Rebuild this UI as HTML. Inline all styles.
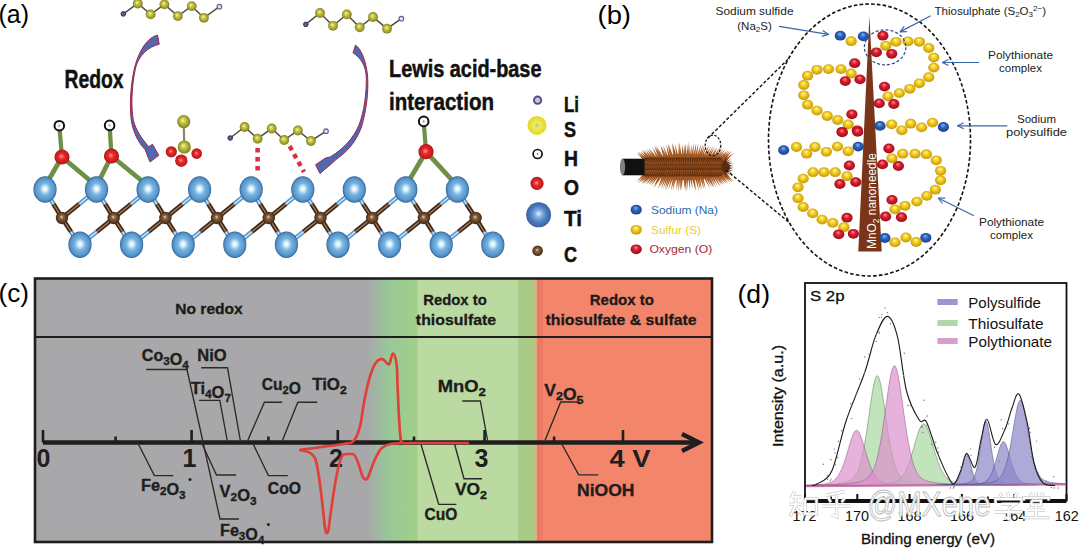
<!DOCTYPE html>
<html><head><meta charset="utf-8"><style>
html,body{margin:0;padding:0;background:#fff;width:1080px;height:549px;overflow:hidden}
svg{display:block}
text{font-family:"Liberation Sans",sans-serif}
</style></head><body>
<svg width="1080" height="549" viewBox="0 0 1080 549">
<rect width="1080" height="549" fill="#fff"/>
<defs>
<radialGradient id="gTi" cx="0.5" cy="0.5" r="0.5" fx="0.5" fy="0.47">
 <stop offset="0" stop-color="#ffffff"/><stop offset="0.18" stop-color="#d8f0fc"/>
 <stop offset="0.45" stop-color="#78b4e0"/><stop offset="0.8" stop-color="#5898cf"/><stop offset="0.92" stop-color="#4880b6"/><stop offset="1" stop-color="#2e5a88"/>
</radialGradient>
<radialGradient id="gTiL" cx="0.5" cy="0.5" r="0.55" fx="0.5" fy="0.45">
 <stop offset="0" stop-color="#e8f0ff"/><stop offset="0.25" stop-color="#8ab0e0"/>
 <stop offset="0.6" stop-color="#4a7cc0"/><stop offset="1" stop-color="#3a5a90"/>
</radialGradient>
<radialGradient id="gC" cx="0.5" cy="0.5" r="0.55" fx="0.45" fy="0.4">
 <stop offset="0" stop-color="#e8d0a8"/><stop offset="0.3" stop-color="#86603a"/><stop offset="1" stop-color="#3a2210"/>
</radialGradient>
<radialGradient id="gO" cx="0.5" cy="0.5" r="0.55" fx="0.45" fy="0.45">
 <stop offset="0" stop-color="#ff9a9a"/><stop offset="0.35" stop-color="#ec2a2a"/><stop offset="0.85" stop-color="#b81818"/><stop offset="1" stop-color="#901010"/>
</radialGradient>
<radialGradient id="gS" cx="0.5" cy="0.5" r="0.55" fx="0.42" fy="0.38">
 <stop offset="0" stop-color="#f8f8b0"/><stop offset="0.35" stop-color="#c8c844"/><stop offset="0.85" stop-color="#8a8a28"/><stop offset="1" stop-color="#5a5a18"/>
</radialGradient>
<radialGradient id="gSL" cx="0.5" cy="0.5" r="0.5" fx="0.5" fy="0.5">
 <stop offset="0" stop-color="#b0c0a0"/><stop offset="0.3" stop-color="#f0ec60"/><stop offset="1" stop-color="#e0d820"/>
</radialGradient>
<radialGradient id="bY" cx="0.5" cy="0.5" r="0.6" fx="0.45" fy="0.3">
 <stop offset="0" stop-color="#fff6a0"/><stop offset="0.4" stop-color="#f4cc20"/><stop offset="1" stop-color="#b88a00"/>
</radialGradient>
<radialGradient id="bB" cx="0.5" cy="0.5" r="0.6" fx="0.45" fy="0.3">
 <stop offset="0" stop-color="#8ab4f0"/><stop offset="0.4" stop-color="#2a64c0"/><stop offset="1" stop-color="#183a80"/>
</radialGradient>
<radialGradient id="bR" cx="0.5" cy="0.5" r="0.6" fx="0.45" fy="0.3">
 <stop offset="0" stop-color="#ff8a8a"/><stop offset="0.4" stop-color="#d81c2c"/><stop offset="1" stop-color="#8a0c18"/>
</radialGradient>
</defs>
<text x="-1.5" y="23.0" font-size="26" font-weight="normal" fill="#000" text-anchor="start" textLength="30.5" lengthAdjust="spacingAndGlyphs" >(a)</text>
<line x1="45.0" y1="190.0" x2="53.5" y2="204.0" stroke="#5a96cc" stroke-width="4.6"/>
<line x1="53.5" y1="204.0" x2="62.0" y2="218.0" stroke="#3e2614" stroke-width="4.6"/>
<line x1="45.0" y1="190.0" x2="53.5" y2="204.0" stroke="#d6ecfa" stroke-width="1.3"/>
<line x1="53.5" y1="204.0" x2="62.0" y2="218.0" stroke="#a88060" stroke-width="1.3"/>
<line x1="80.0" y1="245.5" x2="71.0" y2="231.8" stroke="#5a96cc" stroke-width="4.6"/>
<line x1="71.0" y1="231.8" x2="62.0" y2="218.0" stroke="#3e2614" stroke-width="4.6"/>
<line x1="80.0" y1="245.5" x2="71.0" y2="231.8" stroke="#d6ecfa" stroke-width="1.3"/>
<line x1="71.0" y1="231.8" x2="62.0" y2="218.0" stroke="#a88060" stroke-width="1.3"/>
<line x1="96.5" y1="190.0" x2="79.3" y2="204.0" stroke="#5a96cc" stroke-width="4.6"/>
<line x1="79.3" y1="204.0" x2="62.0" y2="218.0" stroke="#3e2614" stroke-width="4.6"/>
<line x1="96.5" y1="190.0" x2="79.3" y2="204.0" stroke="#d6ecfa" stroke-width="1.3"/>
<line x1="79.3" y1="204.0" x2="62.0" y2="218.0" stroke="#a88060" stroke-width="1.3"/>
<line x1="80.0" y1="245.5" x2="96.8" y2="231.8" stroke="#5a96cc" stroke-width="4.6"/>
<line x1="96.8" y1="231.8" x2="113.7" y2="218.0" stroke="#3e2614" stroke-width="4.6"/>
<line x1="80.0" y1="245.5" x2="96.8" y2="231.8" stroke="#d6ecfa" stroke-width="1.3"/>
<line x1="96.8" y1="231.8" x2="113.7" y2="218.0" stroke="#a88060" stroke-width="1.3"/>
<line x1="96.5" y1="190.0" x2="105.1" y2="204.0" stroke="#5a96cc" stroke-width="4.6"/>
<line x1="105.1" y1="204.0" x2="113.7" y2="218.0" stroke="#3e2614" stroke-width="4.6"/>
<line x1="96.5" y1="190.0" x2="105.1" y2="204.0" stroke="#d6ecfa" stroke-width="1.3"/>
<line x1="105.1" y1="204.0" x2="113.7" y2="218.0" stroke="#a88060" stroke-width="1.3"/>
<line x1="131.6" y1="245.5" x2="122.7" y2="231.8" stroke="#5a96cc" stroke-width="4.6"/>
<line x1="122.7" y1="231.8" x2="113.7" y2="218.0" stroke="#3e2614" stroke-width="4.6"/>
<line x1="131.6" y1="245.5" x2="122.7" y2="231.8" stroke="#d6ecfa" stroke-width="1.3"/>
<line x1="122.7" y1="231.8" x2="113.7" y2="218.0" stroke="#a88060" stroke-width="1.3"/>
<line x1="148.1" y1="190.0" x2="130.9" y2="204.0" stroke="#5a96cc" stroke-width="4.6"/>
<line x1="130.9" y1="204.0" x2="113.7" y2="218.0" stroke="#3e2614" stroke-width="4.6"/>
<line x1="148.1" y1="190.0" x2="130.9" y2="204.0" stroke="#d6ecfa" stroke-width="1.3"/>
<line x1="130.9" y1="204.0" x2="113.7" y2="218.0" stroke="#a88060" stroke-width="1.3"/>
<line x1="131.6" y1="245.5" x2="148.5" y2="231.8" stroke="#5a96cc" stroke-width="4.6"/>
<line x1="148.5" y1="231.8" x2="165.4" y2="218.0" stroke="#3e2614" stroke-width="4.6"/>
<line x1="131.6" y1="245.5" x2="148.5" y2="231.8" stroke="#d6ecfa" stroke-width="1.3"/>
<line x1="148.5" y1="231.8" x2="165.4" y2="218.0" stroke="#a88060" stroke-width="1.3"/>
<line x1="148.1" y1="190.0" x2="156.8" y2="204.0" stroke="#5a96cc" stroke-width="4.6"/>
<line x1="156.8" y1="204.0" x2="165.4" y2="218.0" stroke="#3e2614" stroke-width="4.6"/>
<line x1="148.1" y1="190.0" x2="156.8" y2="204.0" stroke="#d6ecfa" stroke-width="1.3"/>
<line x1="156.8" y1="204.0" x2="165.4" y2="218.0" stroke="#a88060" stroke-width="1.3"/>
<line x1="183.2" y1="245.5" x2="174.3" y2="231.8" stroke="#5a96cc" stroke-width="4.6"/>
<line x1="174.3" y1="231.8" x2="165.4" y2="218.0" stroke="#3e2614" stroke-width="4.6"/>
<line x1="183.2" y1="245.5" x2="174.3" y2="231.8" stroke="#d6ecfa" stroke-width="1.3"/>
<line x1="174.3" y1="231.8" x2="165.4" y2="218.0" stroke="#a88060" stroke-width="1.3"/>
<line x1="199.6" y1="190.0" x2="182.5" y2="204.0" stroke="#5a96cc" stroke-width="4.6"/>
<line x1="182.5" y1="204.0" x2="165.4" y2="218.0" stroke="#3e2614" stroke-width="4.6"/>
<line x1="199.6" y1="190.0" x2="182.5" y2="204.0" stroke="#d6ecfa" stroke-width="1.3"/>
<line x1="182.5" y1="204.0" x2="165.4" y2="218.0" stroke="#a88060" stroke-width="1.3"/>
<line x1="183.2" y1="245.5" x2="200.2" y2="231.8" stroke="#5a96cc" stroke-width="4.6"/>
<line x1="200.2" y1="231.8" x2="217.1" y2="218.0" stroke="#3e2614" stroke-width="4.6"/>
<line x1="183.2" y1="245.5" x2="200.2" y2="231.8" stroke="#d6ecfa" stroke-width="1.3"/>
<line x1="200.2" y1="231.8" x2="217.1" y2="218.0" stroke="#a88060" stroke-width="1.3"/>
<line x1="199.6" y1="190.0" x2="208.4" y2="204.0" stroke="#5a96cc" stroke-width="4.6"/>
<line x1="208.4" y1="204.0" x2="217.1" y2="218.0" stroke="#3e2614" stroke-width="4.6"/>
<line x1="199.6" y1="190.0" x2="208.4" y2="204.0" stroke="#d6ecfa" stroke-width="1.3"/>
<line x1="208.4" y1="204.0" x2="217.1" y2="218.0" stroke="#a88060" stroke-width="1.3"/>
<line x1="234.8" y1="245.5" x2="226.0" y2="231.8" stroke="#5a96cc" stroke-width="4.6"/>
<line x1="226.0" y1="231.8" x2="217.1" y2="218.0" stroke="#3e2614" stroke-width="4.6"/>
<line x1="234.8" y1="245.5" x2="226.0" y2="231.8" stroke="#d6ecfa" stroke-width="1.3"/>
<line x1="226.0" y1="231.8" x2="217.1" y2="218.0" stroke="#a88060" stroke-width="1.3"/>
<line x1="251.2" y1="190.0" x2="234.2" y2="204.0" stroke="#5a96cc" stroke-width="4.6"/>
<line x1="234.2" y1="204.0" x2="217.1" y2="218.0" stroke="#3e2614" stroke-width="4.6"/>
<line x1="251.2" y1="190.0" x2="234.2" y2="204.0" stroke="#d6ecfa" stroke-width="1.3"/>
<line x1="234.2" y1="204.0" x2="217.1" y2="218.0" stroke="#a88060" stroke-width="1.3"/>
<line x1="234.8" y1="245.5" x2="251.8" y2="231.8" stroke="#5a96cc" stroke-width="4.6"/>
<line x1="251.8" y1="231.8" x2="268.8" y2="218.0" stroke="#3e2614" stroke-width="4.6"/>
<line x1="234.8" y1="245.5" x2="251.8" y2="231.8" stroke="#d6ecfa" stroke-width="1.3"/>
<line x1="251.8" y1="231.8" x2="268.8" y2="218.0" stroke="#a88060" stroke-width="1.3"/>
<line x1="251.2" y1="190.0" x2="260.0" y2="204.0" stroke="#5a96cc" stroke-width="4.6"/>
<line x1="260.0" y1="204.0" x2="268.8" y2="218.0" stroke="#3e2614" stroke-width="4.6"/>
<line x1="251.2" y1="190.0" x2="260.0" y2="204.0" stroke="#d6ecfa" stroke-width="1.3"/>
<line x1="260.0" y1="204.0" x2="268.8" y2="218.0" stroke="#a88060" stroke-width="1.3"/>
<line x1="286.4" y1="245.5" x2="277.6" y2="231.8" stroke="#5a96cc" stroke-width="4.6"/>
<line x1="277.6" y1="231.8" x2="268.8" y2="218.0" stroke="#3e2614" stroke-width="4.6"/>
<line x1="286.4" y1="245.5" x2="277.6" y2="231.8" stroke="#d6ecfa" stroke-width="1.3"/>
<line x1="277.6" y1="231.8" x2="268.8" y2="218.0" stroke="#a88060" stroke-width="1.3"/>
<line x1="302.8" y1="190.0" x2="285.8" y2="204.0" stroke="#5a96cc" stroke-width="4.6"/>
<line x1="285.8" y1="204.0" x2="268.8" y2="218.0" stroke="#3e2614" stroke-width="4.6"/>
<line x1="302.8" y1="190.0" x2="285.8" y2="204.0" stroke="#d6ecfa" stroke-width="1.3"/>
<line x1="285.8" y1="204.0" x2="268.8" y2="218.0" stroke="#a88060" stroke-width="1.3"/>
<line x1="286.4" y1="245.5" x2="303.4" y2="231.8" stroke="#5a96cc" stroke-width="4.6"/>
<line x1="303.4" y1="231.8" x2="320.5" y2="218.0" stroke="#3e2614" stroke-width="4.6"/>
<line x1="286.4" y1="245.5" x2="303.4" y2="231.8" stroke="#d6ecfa" stroke-width="1.3"/>
<line x1="303.4" y1="231.8" x2="320.5" y2="218.0" stroke="#a88060" stroke-width="1.3"/>
<line x1="302.8" y1="190.0" x2="311.6" y2="204.0" stroke="#5a96cc" stroke-width="4.6"/>
<line x1="311.6" y1="204.0" x2="320.5" y2="218.0" stroke="#3e2614" stroke-width="4.6"/>
<line x1="302.8" y1="190.0" x2="311.6" y2="204.0" stroke="#d6ecfa" stroke-width="1.3"/>
<line x1="311.6" y1="204.0" x2="320.5" y2="218.0" stroke="#a88060" stroke-width="1.3"/>
<line x1="338.0" y1="245.5" x2="329.2" y2="231.8" stroke="#5a96cc" stroke-width="4.6"/>
<line x1="329.2" y1="231.8" x2="320.5" y2="218.0" stroke="#3e2614" stroke-width="4.6"/>
<line x1="338.0" y1="245.5" x2="329.2" y2="231.8" stroke="#d6ecfa" stroke-width="1.3"/>
<line x1="329.2" y1="231.8" x2="320.5" y2="218.0" stroke="#a88060" stroke-width="1.3"/>
<line x1="354.3" y1="190.0" x2="337.4" y2="204.0" stroke="#5a96cc" stroke-width="4.6"/>
<line x1="337.4" y1="204.0" x2="320.5" y2="218.0" stroke="#3e2614" stroke-width="4.6"/>
<line x1="354.3" y1="190.0" x2="337.4" y2="204.0" stroke="#d6ecfa" stroke-width="1.3"/>
<line x1="337.4" y1="204.0" x2="320.5" y2="218.0" stroke="#a88060" stroke-width="1.3"/>
<line x1="338.0" y1="245.5" x2="355.1" y2="231.8" stroke="#5a96cc" stroke-width="4.6"/>
<line x1="355.1" y1="231.8" x2="372.2" y2="218.0" stroke="#3e2614" stroke-width="4.6"/>
<line x1="338.0" y1="245.5" x2="355.1" y2="231.8" stroke="#d6ecfa" stroke-width="1.3"/>
<line x1="355.1" y1="231.8" x2="372.2" y2="218.0" stroke="#a88060" stroke-width="1.3"/>
<line x1="354.3" y1="190.0" x2="363.2" y2="204.0" stroke="#5a96cc" stroke-width="4.6"/>
<line x1="363.2" y1="204.0" x2="372.2" y2="218.0" stroke="#3e2614" stroke-width="4.6"/>
<line x1="354.3" y1="190.0" x2="363.2" y2="204.0" stroke="#d6ecfa" stroke-width="1.3"/>
<line x1="363.2" y1="204.0" x2="372.2" y2="218.0" stroke="#a88060" stroke-width="1.3"/>
<line x1="389.6" y1="245.5" x2="380.9" y2="231.8" stroke="#5a96cc" stroke-width="4.6"/>
<line x1="380.9" y1="231.8" x2="372.2" y2="218.0" stroke="#3e2614" stroke-width="4.6"/>
<line x1="389.6" y1="245.5" x2="380.9" y2="231.8" stroke="#d6ecfa" stroke-width="1.3"/>
<line x1="380.9" y1="231.8" x2="372.2" y2="218.0" stroke="#a88060" stroke-width="1.3"/>
<line x1="405.8" y1="190.0" x2="389.0" y2="204.0" stroke="#5a96cc" stroke-width="4.6"/>
<line x1="389.0" y1="204.0" x2="372.2" y2="218.0" stroke="#3e2614" stroke-width="4.6"/>
<line x1="405.8" y1="190.0" x2="389.0" y2="204.0" stroke="#d6ecfa" stroke-width="1.3"/>
<line x1="389.0" y1="204.0" x2="372.2" y2="218.0" stroke="#a88060" stroke-width="1.3"/>
<line x1="389.6" y1="245.5" x2="406.8" y2="231.8" stroke="#5a96cc" stroke-width="4.6"/>
<line x1="406.8" y1="231.8" x2="423.9" y2="218.0" stroke="#3e2614" stroke-width="4.6"/>
<line x1="389.6" y1="245.5" x2="406.8" y2="231.8" stroke="#d6ecfa" stroke-width="1.3"/>
<line x1="406.8" y1="231.8" x2="423.9" y2="218.0" stroke="#a88060" stroke-width="1.3"/>
<line x1="405.8" y1="190.0" x2="414.9" y2="204.0" stroke="#5a96cc" stroke-width="4.6"/>
<line x1="414.9" y1="204.0" x2="423.9" y2="218.0" stroke="#3e2614" stroke-width="4.6"/>
<line x1="405.8" y1="190.0" x2="414.9" y2="204.0" stroke="#d6ecfa" stroke-width="1.3"/>
<line x1="414.9" y1="204.0" x2="423.9" y2="218.0" stroke="#a88060" stroke-width="1.3"/>
<line x1="441.2" y1="245.5" x2="432.6" y2="231.8" stroke="#5a96cc" stroke-width="4.6"/>
<line x1="432.6" y1="231.8" x2="423.9" y2="218.0" stroke="#3e2614" stroke-width="4.6"/>
<line x1="441.2" y1="245.5" x2="432.6" y2="231.8" stroke="#d6ecfa" stroke-width="1.3"/>
<line x1="432.6" y1="231.8" x2="423.9" y2="218.0" stroke="#a88060" stroke-width="1.3"/>
<line x1="457.4" y1="190.0" x2="440.6" y2="204.0" stroke="#5a96cc" stroke-width="4.6"/>
<line x1="440.6" y1="204.0" x2="423.9" y2="218.0" stroke="#3e2614" stroke-width="4.6"/>
<line x1="457.4" y1="190.0" x2="440.6" y2="204.0" stroke="#d6ecfa" stroke-width="1.3"/>
<line x1="440.6" y1="204.0" x2="423.9" y2="218.0" stroke="#a88060" stroke-width="1.3"/>
<line x1="441.2" y1="245.5" x2="458.4" y2="231.8" stroke="#5a96cc" stroke-width="4.6"/>
<line x1="458.4" y1="231.8" x2="475.6" y2="218.0" stroke="#3e2614" stroke-width="4.6"/>
<line x1="441.2" y1="245.5" x2="458.4" y2="231.8" stroke="#d6ecfa" stroke-width="1.3"/>
<line x1="458.4" y1="231.8" x2="475.6" y2="218.0" stroke="#a88060" stroke-width="1.3"/>
<line x1="457.4" y1="190.0" x2="466.5" y2="204.0" stroke="#5a96cc" stroke-width="4.6"/>
<line x1="466.5" y1="204.0" x2="475.6" y2="218.0" stroke="#3e2614" stroke-width="4.6"/>
<line x1="457.4" y1="190.0" x2="466.5" y2="204.0" stroke="#d6ecfa" stroke-width="1.3"/>
<line x1="466.5" y1="204.0" x2="475.6" y2="218.0" stroke="#a88060" stroke-width="1.3"/>
<line x1="492.8" y1="245.5" x2="484.2" y2="231.8" stroke="#5a96cc" stroke-width="4.6"/>
<line x1="484.2" y1="231.8" x2="475.6" y2="218.0" stroke="#3e2614" stroke-width="4.6"/>
<line x1="492.8" y1="245.5" x2="484.2" y2="231.8" stroke="#d6ecfa" stroke-width="1.3"/>
<line x1="484.2" y1="231.8" x2="475.6" y2="218.0" stroke="#a88060" stroke-width="1.3"/>
<line x1="59.3" y1="125.7" x2="62.0" y2="157.0" stroke="#6c9046" stroke-width="4.2" stroke-linecap="butt"/>
<line x1="62.0" y1="157.0" x2="45.0" y2="186.0" stroke="#6c9046" stroke-width="4.8" stroke-linecap="butt"/>
<line x1="62.0" y1="157.0" x2="96.5" y2="186.0" stroke="#6c9046" stroke-width="4.8" stroke-linecap="butt"/>
<line x1="109.6" y1="125.4" x2="111.5" y2="156.0" stroke="#6c9046" stroke-width="4.2" stroke-linecap="butt"/>
<line x1="111.5" y1="156.0" x2="96.5" y2="186.0" stroke="#6c9046" stroke-width="4.8" stroke-linecap="butt"/>
<line x1="111.5" y1="156.0" x2="148.1" y2="186.0" stroke="#6c9046" stroke-width="4.8" stroke-linecap="butt"/>
<line x1="423.7" y1="121.4" x2="426.0" y2="151.7" stroke="#6c9046" stroke-width="4.2" stroke-linecap="butt"/>
<line x1="426.0" y1="151.7" x2="405.8" y2="186.0" stroke="#6c9046" stroke-width="4.8" stroke-linecap="butt"/>
<line x1="426.0" y1="151.7" x2="457.4" y2="186.0" stroke="#6c9046" stroke-width="4.8" stroke-linecap="butt"/>
<ellipse cx="45.0" cy="189.5" rx="11.6" ry="13.2" fill="url(#gTi)"/>
<ellipse cx="96.5" cy="189.5" rx="11.6" ry="13.2" fill="url(#gTi)"/>
<ellipse cx="148.1" cy="189.5" rx="11.6" ry="13.2" fill="url(#gTi)"/>
<ellipse cx="199.6" cy="189.5" rx="11.6" ry="13.2" fill="url(#gTi)"/>
<ellipse cx="251.2" cy="189.5" rx="11.6" ry="13.2" fill="url(#gTi)"/>
<ellipse cx="302.8" cy="189.5" rx="11.6" ry="13.2" fill="url(#gTi)"/>
<ellipse cx="354.3" cy="189.5" rx="11.6" ry="13.2" fill="url(#gTi)"/>
<ellipse cx="405.8" cy="189.5" rx="11.6" ry="13.2" fill="url(#gTi)"/>
<ellipse cx="457.4" cy="189.5" rx="11.6" ry="13.2" fill="url(#gTi)"/>
<ellipse cx="80.0" cy="244.7" rx="11.6" ry="13.2" fill="url(#gTi)"/>
<ellipse cx="131.6" cy="244.7" rx="11.6" ry="13.2" fill="url(#gTi)"/>
<ellipse cx="183.2" cy="244.7" rx="11.6" ry="13.2" fill="url(#gTi)"/>
<ellipse cx="234.8" cy="244.7" rx="11.6" ry="13.2" fill="url(#gTi)"/>
<ellipse cx="286.4" cy="244.7" rx="11.6" ry="13.2" fill="url(#gTi)"/>
<ellipse cx="338.0" cy="244.7" rx="11.6" ry="13.2" fill="url(#gTi)"/>
<ellipse cx="389.6" cy="244.7" rx="11.6" ry="13.2" fill="url(#gTi)"/>
<ellipse cx="441.2" cy="244.7" rx="11.6" ry="13.2" fill="url(#gTi)"/>
<ellipse cx="492.8" cy="244.7" rx="11.6" ry="13.2" fill="url(#gTi)"/>
<circle cx="62.0" cy="218" r="6.2" fill="url(#gC)"/>
<circle cx="113.7" cy="218" r="6.2" fill="url(#gC)"/>
<circle cx="165.4" cy="218" r="6.2" fill="url(#gC)"/>
<circle cx="217.1" cy="218" r="6.2" fill="url(#gC)"/>
<circle cx="268.8" cy="218" r="6.2" fill="url(#gC)"/>
<circle cx="320.5" cy="218" r="6.2" fill="url(#gC)"/>
<circle cx="372.2" cy="218" r="6.2" fill="url(#gC)"/>
<circle cx="423.9" cy="218" r="6.2" fill="url(#gC)"/>
<circle cx="475.6" cy="218" r="6.2" fill="url(#gC)"/>
<circle cx="62" cy="157" r="7.6" fill="url(#gO)"/>
<circle cx="59.3" cy="125.7" r="4.8" fill="#fff" stroke="#111" stroke-width="2"/>
<circle cx="59.3" cy="125.7" r="1.1" fill="#999"/>
<circle cx="111.5" cy="156" r="7.6" fill="url(#gO)"/>
<circle cx="109.6" cy="125.4" r="4.8" fill="#fff" stroke="#111" stroke-width="2"/>
<circle cx="109.6" cy="125.4" r="1.1" fill="#999"/>
<circle cx="426" cy="151.7" r="7.6" fill="url(#gO)"/>
<circle cx="423.7" cy="121.4" r="4.8" fill="#fff" stroke="#111" stroke-width="2"/>
<circle cx="423.7" cy="121.4" r="1.1" fill="#999"/>
<line x1="183.7" y1="121.7" x2="184.3" y2="147" stroke="#8a8a60" stroke-width="2.2"/>
<circle cx="183.7" cy="121.6" r="6.6" fill="url(#gS)"/>
<circle cx="184.3" cy="147" r="6.6" fill="url(#gS)"/>
<circle cx="171.3" cy="151.8" r="5.6" fill="url(#gO)"/>
<circle cx="196.7" cy="153.6" r="5.3" fill="url(#gO)"/>
<circle cx="181.3" cy="160.7" r="6.2" fill="url(#gO)"/>
<polyline points="123.3,13.9 137.8,3.5 150.6,14.4 164.4,4.4 177.8,16.1 191.7,6.1 203.9,17.8 219.4,6.7" fill="none" stroke="#505038" stroke-width="1.5"/>
<circle cx="123.3" cy="13.9" r="2.3" fill="#6a5a88" stroke="#3a2a50" stroke-width="1"/>
<circle cx="219.4" cy="6.7" r="2.3" fill="#e8e0f8" stroke="#6a5a8a" stroke-width="1.1"/>
<circle cx="137.8" cy="3.5" r="4.9" fill="url(#gS)"/>
<circle cx="150.6" cy="14.4" r="4.9" fill="url(#gS)"/>
<circle cx="164.4" cy="4.4" r="4.9" fill="url(#gS)"/>
<circle cx="177.8" cy="16.1" r="4.9" fill="url(#gS)"/>
<circle cx="191.7" cy="6.1" r="4.9" fill="url(#gS)"/>
<circle cx="203.9" cy="17.8" r="4.9" fill="url(#gS)"/>
<polyline points="305.8,24.4 320.0,13.0 333.0,25.8 346.8,14.4 359.7,27.3 373.0,17.0 387.0,28.7 401.4,18.7" fill="none" stroke="#505038" stroke-width="1.5"/>
<circle cx="305.8" cy="24.4" r="2.3" fill="#6a5a88" stroke="#3a2a50" stroke-width="1"/>
<circle cx="401.4" cy="18.7" r="2.3" fill="#e8e0f8" stroke="#6a5a8a" stroke-width="1.1"/>
<circle cx="320.0" cy="13.0" r="4.9" fill="url(#gS)"/>
<circle cx="333.0" cy="25.8" r="4.9" fill="url(#gS)"/>
<circle cx="346.8" cy="14.4" r="4.9" fill="url(#gS)"/>
<circle cx="359.7" cy="27.3" r="4.9" fill="url(#gS)"/>
<circle cx="373.0" cy="17.0" r="4.9" fill="url(#gS)"/>
<circle cx="387.0" cy="28.7" r="4.9" fill="url(#gS)"/>
<polyline points="230.2,138.0 244.6,127.0 257.6,138.7 271.7,128.5 284.2,140.0 297.9,130.5 310.9,141.0 326.0,131.2" fill="none" stroke="#505038" stroke-width="1.5"/>
<circle cx="230.2" cy="138" r="2.3" fill="#6a5a88" stroke="#3a2a50" stroke-width="1"/>
<circle cx="326" cy="131.2" r="2.3" fill="#e8e0f8" stroke="#6a5a8a" stroke-width="1.1"/>
<circle cx="244.6" cy="127.0" r="4.9" fill="url(#gS)"/>
<circle cx="257.6" cy="138.7" r="4.9" fill="url(#gS)"/>
<circle cx="271.7" cy="128.5" r="4.9" fill="url(#gS)"/>
<circle cx="284.2" cy="140.0" r="4.9" fill="url(#gS)"/>
<circle cx="297.9" cy="130.5" r="4.9" fill="url(#gS)"/>
<circle cx="310.9" cy="141.0" r="4.9" fill="url(#gS)"/>
<line x1="257.6" y1="148" x2="257.6" y2="173" stroke="#d83040" stroke-width="4.5" stroke-dasharray="4.6 4.4"/>
<line x1="289.7" y1="146.2" x2="304" y2="172" stroke="#d83040" stroke-width="4.5" stroke-dasharray="4.6 4.4"/>
<path d="M157.6,35.2 C148,37 139,50 134.5,68 C130.5,85 129.5,105 131.2,120 C133,132 138,142 145,149.5 L146.2,152.5 L150,162 L158.8,155.3 L152.5,144.2 L148.8,146.8 C142.5,139.5 136,131 133.3,120 C131.3,108 131,90 135.5,68 C139,55 148,47 159.2,44.2 Z" fill="#5068b0" stroke="#9a2a48" stroke-width="1" stroke-linejoin="round"/>
<path d="M355.5,45.1 C361,49 366,60 367.6,76 C368.6,92 366.5,110 361.5,127 C356,142 347,152 336,159.5 L333.5,162 L320,173.5 L315.5,164.8 L325.5,158 L330.5,156.8 C343,149 353,139 359,125 C364,112 366.5,94 366.3,78 C366,66 361,58 353,52.8 Z" fill="#5068b0" stroke="#9a2a48" stroke-width="1" stroke-linejoin="round"/>
<text x="64.5" y="88.3" font-size="25" font-weight="bold" fill="#111" text-anchor="start" textLength="59" lengthAdjust="spacingAndGlyphs" stroke="#111" stroke-width="0.5">Redox</text>
<text x="389.0" y="77.0" font-size="23" font-weight="bold" fill="#111" text-anchor="start" textLength="152.5" lengthAdjust="spacingAndGlyphs" stroke="#111" stroke-width="0.5">Lewis acid-base</text>
<text x="389.0" y="109.5" font-size="23" font-weight="bold" fill="#111" text-anchor="start" textLength="105" lengthAdjust="spacingAndGlyphs" stroke="#111" stroke-width="0.5">interaction</text>
<circle cx="537.6" cy="100.2" r="3.6" fill="#c8c0e0" stroke="#5a4a80" stroke-width="2"/>
<circle cx="537" cy="125.4" r="9.5" fill="url(#gSL)"/>
<circle cx="537.6" cy="154" r="4.5" fill="#fff" stroke="#111" stroke-width="1.7"/><circle cx="537.6" cy="154" r="1" fill="#999"/>
<circle cx="537" cy="183.4" r="6.6" fill="url(#gO)"/>
<circle cx="538.6" cy="214.8" r="12.5" fill="url(#gTiL)"/>
<circle cx="537.6" cy="250.8" r="5.3" fill="url(#gC)"/>
<text x="564.0" y="112.0" font-size="22" font-weight="bold" fill="#111" text-anchor="start" textLength="15" lengthAdjust="spacingAndGlyphs" stroke="#111" stroke-width="0.5">Li</text>
<text x="564.0" y="137.0" font-size="22" font-weight="bold" fill="#111" text-anchor="start" textLength="12" lengthAdjust="spacingAndGlyphs" stroke="#111" stroke-width="0.5">S</text>
<text x="564.0" y="166.0" font-size="22" font-weight="bold" fill="#111" text-anchor="start" textLength="14" lengthAdjust="spacingAndGlyphs" stroke="#111" stroke-width="0.5">H</text>
<text x="564.0" y="195.0" font-size="22" font-weight="bold" fill="#111" text-anchor="start" textLength="15" lengthAdjust="spacingAndGlyphs" stroke="#111" stroke-width="0.5">O</text>
<text x="564.0" y="226.0" font-size="22" font-weight="bold" fill="#111" text-anchor="start" textLength="18" lengthAdjust="spacingAndGlyphs" stroke="#111" stroke-width="0.5">Ti</text>
<text x="564.0" y="262.0" font-size="22" font-weight="bold" fill="#111" text-anchor="start" textLength="13" lengthAdjust="spacingAndGlyphs" stroke="#111" stroke-width="0.5">C</text>
<text x="597.5" y="23.5" font-size="26" font-weight="normal" fill="#000" text-anchor="start" textLength="33.5" lengthAdjust="spacingAndGlyphs" >(b)</text>
<defs><linearGradient id="spk" x1="0" y1="0" x2="0" y2="1"><stop offset="0" stop-color="#c87838"/><stop offset="1" stop-color="#6a3010"/></linearGradient></defs>
<ellipse cx="686" cy="167" rx="44" ry="13" fill="#6a3010"/>
<polygon points="646.9,160.0 636.5,152.4 645.1,162.0" fill="#a65a24"/>
<polygon points="645.0,172.0 636.6,181.8 647.0,174.0" fill="#a65a24"/>
<polygon points="648.5,160.0 637.7,151.2 646.5,162.0" fill="#a65a24"/>
<polygon points="646.5,172.1 638.1,183.2 648.6,173.9" fill="#a65a24"/>
<polygon points="650.1,160.1 640.4,151.3 648.0,161.9" fill="#a65a24"/>
<polygon points="648.0,172.1 640.3,182.6 650.1,173.9" fill="#a65a24"/>
<polygon points="651.7,160.1 642.0,150.2 649.5,161.9" fill="#a65a24"/>
<polygon points="649.5,172.1 641.4,183.2 651.6,173.9" fill="#a65a24"/>
<polygon points="653.2,160.1 642.2,149.4 651.1,161.9" fill="#a65a24"/>
<polygon points="651.1,172.1 642.0,184.4 653.2,173.9" fill="#a65a24"/>
<polygon points="654.8,160.1 645.0,149.8 652.5,161.9" fill="#a65a24"/>
<polygon points="652.6,172.1 644.3,183.6 654.7,173.9" fill="#a65a24"/>
<polygon points="656.3,160.2 646.5,148.5 654.0,161.8" fill="#a65a24"/>
<polygon points="654.1,172.1 645.8,185.0 656.3,173.9" fill="#a65a24"/>
<polygon points="657.9,160.2 648.9,148.8 655.5,161.8" fill="#a65a24"/>
<polygon points="655.6,172.2 648.3,184.8 657.8,173.8" fill="#a65a24"/>
<polygon points="659.4,160.2 649.1,148.8 657.1,161.8" fill="#a65a24"/>
<polygon points="657.1,172.2 649.3,185.3 659.4,173.8" fill="#a65a24"/>
<polygon points="661.0,160.3 652.0,147.2 658.5,161.7" fill="#a65a24"/>
<polygon points="658.6,172.2 650.9,186.1 660.9,173.8" fill="#a65a24"/>
<polygon points="662.6,160.4 654.1,146.1 660.0,161.6" fill="#a65a24"/>
<polygon points="660.1,172.3 653.4,187.6 662.5,173.7" fill="#a65a24"/>
<polygon points="664.1,160.3 654.9,145.9 661.6,161.7" fill="#a65a24"/>
<polygon points="661.6,172.3 654.1,187.6 664.0,173.7" fill="#a65a24"/>
<polygon points="665.6,160.3 656.0,145.7 663.1,161.7" fill="#a65a24"/>
<polygon points="663.1,172.5 657.7,189.1 665.6,173.5" fill="#a65a24"/>
<polygon points="667.2,160.5 660.5,145.9 664.6,161.5" fill="#a65a24"/>
<polygon points="664.6,172.5 659.6,187.7 667.2,173.5" fill="#a65a24"/>
<polygon points="668.7,160.4 660.6,145.2 666.1,161.6" fill="#a65a24"/>
<polygon points="666.1,172.5 661.1,188.9 668.7,173.5" fill="#a65a24"/>
<polygon points="670.2,160.5 663.0,145.4 667.6,161.5" fill="#a65a24"/>
<polygon points="667.6,172.5 663.1,188.7 670.3,173.5" fill="#a65a24"/>
<polygon points="671.8,160.6 666.1,144.2 669.1,161.4" fill="#a65a24"/>
<polygon points="669.1,172.5 664.7,189.4 671.8,173.5" fill="#a65a24"/>
<polygon points="673.4,160.7 667.8,143.2 670.6,161.3" fill="#a65a24"/>
<polygon points="670.7,172.5 665.8,190.2 673.3,173.5" fill="#a65a24"/>
<polygon points="674.9,160.6 668.4,144.0 672.2,161.4" fill="#a65a24"/>
<polygon points="672.2,172.6 668.3,190.0 674.9,173.4" fill="#a65a24"/>
<polygon points="676.4,160.8 672.1,142.6 673.7,161.2" fill="#a65a24"/>
<polygon points="673.7,172.7 670.9,191.1 676.4,173.3" fill="#a65a24"/>
<polygon points="678.0,160.7 672.6,143.4 675.2,161.3" fill="#a65a24"/>
<polygon points="675.2,172.7 672.5,190.6 678.0,173.3" fill="#a65a24"/>
<polygon points="679.5,160.8 675.0,143.5 676.7,161.2" fill="#a65a24"/>
<polygon points="676.7,172.9 676.6,190.7 679.5,173.1" fill="#a65a24"/>
<polygon points="681.0,160.9 678.8,142.5 678.2,161.1" fill="#a65a24"/>
<polygon points="678.2,172.9 678.6,191.5 681.0,173.1" fill="#a65a24"/>
<polygon points="682.6,160.9 679.4,142.6 679.8,161.1" fill="#a65a24"/>
<polygon points="679.8,173.0 680.6,191.4 682.6,173.0" fill="#a65a24"/>
<polygon points="684.1,161.0 682.5,143.8 681.3,161.0" fill="#a65a24"/>
<polygon points="681.3,172.9 681.0,190.1 684.1,173.1" fill="#a65a24"/>
<polygon points="685.6,161.0 684.2,144.4 682.8,161.0" fill="#a65a24"/>
<polygon points="682.8,173.1 685.0,189.6 685.6,172.9" fill="#a65a24"/>
<polygon points="687.2,161.0 685.6,142.7 684.4,161.0" fill="#a65a24"/>
<polygon points="684.4,172.9 685.1,191.3 687.2,173.1" fill="#a65a24"/>
<polygon points="688.7,161.1 688.2,142.1 685.9,160.9" fill="#a65a24"/>
<polygon points="685.9,173.0 686.9,191.9 688.7,173.0" fill="#a65a24"/>
<polygon points="690.2,161.0 689.2,143.8 687.4,161.0" fill="#a65a24"/>
<polygon points="687.4,173.1 690.0,190.2 690.2,172.9" fill="#a65a24"/>
<polygon points="691.7,161.1 691.6,144.5 689.0,160.9" fill="#a65a24"/>
<polygon points="689.0,173.2 692.5,189.4 691.7,172.8" fill="#a65a24"/>
<polygon points="693.3,161.1 693.7,143.2 690.5,160.9" fill="#a65a24"/>
<polygon points="690.5,173.3 695.6,190.5 693.3,172.7" fill="#a65a24"/>
<polygon points="694.8,161.2 696.3,142.8 692.0,160.8" fill="#a65a24"/>
<polygon points="692.0,173.2 695.6,191.3 694.8,172.8" fill="#a65a24"/>
<polygon points="696.3,161.3 698.5,142.9 693.6,160.7" fill="#a65a24"/>
<polygon points="693.6,173.3 698.9,191.0 696.3,172.7" fill="#a65a24"/>
<polygon points="697.8,161.4 701.1,144.2 695.1,160.6" fill="#a65a24"/>
<polygon points="695.1,173.3 700.5,189.9 697.8,172.7" fill="#a65a24"/>
<polygon points="699.3,161.4 703.1,144.4 696.7,160.6" fill="#a65a24"/>
<polygon points="696.6,173.3 701.8,190.0 699.4,172.7" fill="#a65a24"/>
<polygon points="700.9,161.4 704.6,144.6 698.2,160.6" fill="#a65a24"/>
<polygon points="698.2,173.4 704.3,189.5 700.9,172.6" fill="#a65a24"/>
<polygon points="702.4,161.4 706.2,145.4 699.7,160.6" fill="#a65a24"/>
<polygon points="699.7,173.4 705.6,188.7 702.4,172.6" fill="#a65a24"/>
<polygon points="703.9,161.5 708.9,145.3 701.3,160.5" fill="#a65a24"/>
<polygon points="701.3,173.6 709.9,188.2 703.9,172.4" fill="#a65a24"/>
<polygon points="705.4,161.6 710.9,146.0 702.8,160.4" fill="#a65a24"/>
<polygon points="702.9,173.6 711.7,187.6 705.4,172.4" fill="#a65a24"/>
<polygon points="706.9,161.6 713.1,146.0 704.4,160.4" fill="#a65a24"/>
<polygon points="704.4,173.7 713.8,187.7 706.9,172.3" fill="#a65a24"/>
<polygon points="708.4,161.6 714.7,146.2 705.9,160.4" fill="#a65a24"/>
<polygon points="705.9,173.6 714.4,187.9 708.4,172.4" fill="#a65a24"/>
<polygon points="709.9,161.7 716.8,147.5 707.5,160.3" fill="#a65a24"/>
<polygon points="707.5,173.6 715.9,187.0 710.0,172.4" fill="#a65a24"/>
<polygon points="711.5,161.6 717.1,147.9 709.0,160.4" fill="#a65a24"/>
<polygon points="709.0,173.7 717.6,185.9 711.5,172.3" fill="#a65a24"/>
<polygon points="713.0,161.7 720.3,146.7 710.6,160.3" fill="#a65a24"/>
<polygon points="710.6,173.8 720.9,186.9 712.9,172.2" fill="#a65a24"/>
<polygon points="714.5,161.8 721.9,148.0 712.1,160.2" fill="#a65a24"/>
<polygon points="712.2,173.8 722.5,185.6 714.4,172.2" fill="#a65a24"/>
<polygon points="716.0,161.8 723.4,149.0 713.7,160.2" fill="#a65a24"/>
<polygon points="713.7,173.8 723.5,184.9 716.0,172.2" fill="#a65a24"/>
<polygon points="717.5,161.9 725.2,149.5 715.2,160.1" fill="#a65a24"/>
<polygon points="715.2,173.8 724.9,184.6 717.5,172.2" fill="#a65a24"/>
<polygon points="718.9,161.9 726.8,150.7 716.8,160.1" fill="#a65a24"/>
<polygon points="716.8,173.9 726.4,183.6 719.0,172.1" fill="#a65a24"/>
<polygon points="720.5,161.9 728.4,150.4 718.3,160.1" fill="#a65a24"/>
<polygon points="718.3,173.9 728.3,183.7 720.5,172.1" fill="#a65a24"/>
<polygon points="722.0,161.9 729.9,151.0 719.9,160.1" fill="#a65a24"/>
<polygon points="719.9,174.0 730.4,182.6 721.9,172.0" fill="#a65a24"/>
<polygon points="723.5,162.0 732.0,150.7 721.4,160.0" fill="#a65a24"/>
<polygon points="721.5,174.0 732.8,182.5 723.4,172.0" fill="#a65a24"/>
<polygon points="724.9,162.1 734.1,152.8 723.1,159.9" fill="#a65a24"/>
<polygon points="723.1,174.0 733.7,181.6 724.9,172.0" fill="#a65a24"/>
<polygon points="722.3,167.8 727.5,155.7 719.7,166.2" fill="#5a2a0c"/>
<polygon points="722.1,168.0 729.4,157.0 719.9,166.0" fill="#5a2a0c"/>
<polygon points="722.0,168.1 731.0,158.6 720.0,165.9" fill="#5a2a0c"/>
<polygon points="721.8,168.3 732.3,160.5 720.2,165.7" fill="#5a2a0c"/>
<polygon points="721.5,168.4 733.2,162.6 720.5,165.6" fill="#5a2a0c"/>
<polygon points="721.3,168.5 733.8,164.7 720.7,165.5" fill="#5a2a0c"/>
<polygon points="721.0,168.5 734.0,167.0 721.0,165.5" fill="#5a2a0c"/>
<polygon points="720.7,168.5 733.8,169.3 721.3,165.5" fill="#5a2a0c"/>
<polygon points="720.5,168.4 733.2,171.4 721.5,165.6" fill="#5a2a0c"/>
<polygon points="720.2,168.3 732.3,173.5 721.8,165.7" fill="#5a2a0c"/>
<polygon points="720.0,168.1 731.0,175.4 722.0,165.9" fill="#5a2a0c"/>
<polygon points="719.9,168.0 729.4,177.0 722.1,166.0" fill="#5a2a0c"/>
<polygon points="719.7,167.8 727.5,178.3 722.3,166.2" fill="#5a2a0c"/>
<rect x="643" y="157.5" width="80" height="19" rx="4" fill="#62300f"/>
<rect x="643" y="164.5" width="78" height="4" fill="#84461a" opacity="0.8"/>
<polygon points="647.6,163.5 642.6,158.6 646.4,164.5" fill="#9a5222"/>
<polygon points="646.4,169.5 642.6,175.4 647.6,170.5" fill="#9a5222"/>
<polygon points="649.7,163.5 644.9,158.4 648.5,164.5" fill="#9a5222"/>
<polygon points="648.5,169.5 644.9,175.6 649.7,170.5" fill="#9a5222"/>
<polygon points="651.9,163.5 647.2,158.2 650.5,164.5" fill="#9a5222"/>
<polygon points="650.5,169.5 647.2,175.8 651.9,170.5" fill="#9a5222"/>
<polygon points="654.0,163.6 649.5,158.1 652.6,164.4" fill="#9a5222"/>
<polygon points="652.6,169.6 649.5,175.9 654.0,170.4" fill="#9a5222"/>
<polygon points="656.1,163.6 651.9,158.0 654.7,164.4" fill="#9a5222"/>
<polygon points="654.7,169.6 651.9,176.0 656.1,170.4" fill="#9a5222"/>
<polygon points="658.2,163.6 654.2,157.8 656.8,164.4" fill="#9a5222"/>
<polygon points="656.8,169.6 654.2,176.2 658.2,170.4" fill="#9a5222"/>
<polygon points="660.3,163.6 656.5,157.7 658.9,164.4" fill="#9a5222"/>
<polygon points="658.9,169.6 656.5,176.3 660.3,170.4" fill="#9a5222"/>
<polygon points="662.4,163.7 658.9,157.6 661.0,164.3" fill="#9a5222"/>
<polygon points="661.0,169.7 658.9,176.4 662.4,170.3" fill="#9a5222"/>
<polygon points="664.5,163.7 661.2,157.5 663.1,164.3" fill="#9a5222"/>
<polygon points="663.1,169.7 661.2,176.5 664.5,170.3" fill="#9a5222"/>
<polygon points="666.7,163.7 663.6,157.4 665.1,164.3" fill="#9a5222"/>
<polygon points="665.1,169.7 663.6,176.6 666.7,170.3" fill="#9a5222"/>
<polygon points="668.8,163.8 665.9,157.3 667.2,164.2" fill="#9a5222"/>
<polygon points="667.2,169.8 665.9,176.7 668.8,170.2" fill="#9a5222"/>
<polygon points="670.9,163.8 668.3,157.2 669.3,164.2" fill="#9a5222"/>
<polygon points="669.3,169.8 668.3,176.8 670.9,170.2" fill="#9a5222"/>
<polygon points="673.0,163.8 670.6,157.2 671.4,164.2" fill="#9a5222"/>
<polygon points="671.4,169.8 670.6,176.8 673.0,170.2" fill="#9a5222"/>
<polygon points="675.1,163.8 673.0,157.1 673.5,164.2" fill="#9a5222"/>
<polygon points="673.5,169.8 673.0,176.9 675.1,170.2" fill="#9a5222"/>
<polygon points="677.2,163.9 675.3,157.1 675.6,164.1" fill="#9a5222"/>
<polygon points="675.6,169.9 675.3,176.9 677.2,170.1" fill="#9a5222"/>
<polygon points="679.3,163.9 677.7,157.0 677.7,164.1" fill="#9a5222"/>
<polygon points="677.7,169.9 677.7,177.0 679.3,170.1" fill="#9a5222"/>
<polygon points="681.4,163.9 680.0,157.0 679.8,164.1" fill="#9a5222"/>
<polygon points="679.8,169.9 680.0,177.0 681.4,170.1" fill="#9a5222"/>
<polygon points="683.5,164.0 682.4,157.0 681.9,164.0" fill="#9a5222"/>
<polygon points="681.9,170.0 682.4,177.0 683.5,170.0" fill="#9a5222"/>
<polygon points="685.6,164.0 684.8,157.0 684.0,164.0" fill="#9a5222"/>
<polygon points="684.0,170.0 684.8,177.0 685.6,170.0" fill="#9a5222"/>
<polygon points="687.7,164.0 687.1,157.0 686.1,164.0" fill="#9a5222"/>
<polygon points="686.1,170.0 687.1,177.0 687.7,170.0" fill="#9a5222"/>
<polygon points="689.8,164.1 689.5,157.0 688.2,163.9" fill="#9a5222"/>
<polygon points="688.2,170.1 689.5,177.0 689.8,169.9" fill="#9a5222"/>
<polygon points="691.9,164.1 691.9,157.0 690.3,163.9" fill="#9a5222"/>
<polygon points="690.3,170.1 691.9,177.0 691.9,169.9" fill="#9a5222"/>
<polygon points="694.0,164.1 694.2,157.1 692.4,163.9" fill="#9a5222"/>
<polygon points="692.4,170.1 694.2,176.9 694.0,169.9" fill="#9a5222"/>
<polygon points="696.1,164.1 696.6,157.1 694.5,163.9" fill="#9a5222"/>
<polygon points="694.5,170.1 696.6,176.9 696.1,169.9" fill="#9a5222"/>
<polygon points="698.2,164.2 698.9,157.2 696.6,163.8" fill="#9a5222"/>
<polygon points="696.6,170.2 698.9,176.8 698.2,169.8" fill="#9a5222"/>
<polygon points="700.3,164.2 701.3,157.2 698.7,163.8" fill="#9a5222"/>
<polygon points="698.7,170.2 701.3,176.8 700.3,169.8" fill="#9a5222"/>
<polygon points="702.4,164.2 703.6,157.3 700.8,163.8" fill="#9a5222"/>
<polygon points="700.8,170.2 703.6,176.7 702.4,169.8" fill="#9a5222"/>
<polygon points="704.5,164.3 706.0,157.4 702.9,163.7" fill="#9a5222"/>
<polygon points="702.9,170.3 706.0,176.6 704.5,169.7" fill="#9a5222"/>
<polygon points="706.5,164.3 708.3,157.5 705.1,163.7" fill="#9a5222"/>
<polygon points="705.1,170.3 708.3,176.5 706.5,169.7" fill="#9a5222"/>
<polygon points="708.6,164.3 710.7,157.6 707.2,163.7" fill="#9a5222"/>
<polygon points="707.2,170.3 710.7,176.4 708.6,169.7" fill="#9a5222"/>
<polygon points="710.7,164.3 713.0,157.7 709.3,163.7" fill="#9a5222"/>
<polygon points="709.3,170.3 713.0,176.3 710.7,169.7" fill="#9a5222"/>
<polygon points="712.8,164.4 715.4,157.8 711.4,163.6" fill="#9a5222"/>
<polygon points="711.4,170.4 715.4,176.2 712.8,169.6" fill="#9a5222"/>
<polygon points="714.9,164.4 717.7,157.9 713.5,163.6" fill="#9a5222"/>
<polygon points="713.5,170.4 717.7,176.1 714.9,169.6" fill="#9a5222"/>
<polygon points="717.0,164.4 720.0,158.1 715.6,163.6" fill="#9a5222"/>
<polygon points="715.6,170.4 720.0,175.9 717.0,169.6" fill="#9a5222"/>
<polygon points="719.1,164.5 722.3,158.2 717.7,163.5" fill="#9a5222"/>
<polygon points="717.7,170.5 722.3,175.8 719.1,169.5" fill="#9a5222"/>
<polygon points="721.1,164.5 724.7,158.4 719.9,163.5" fill="#9a5222"/>
<polygon points="719.9,170.5 724.7,175.6 721.1,169.5" fill="#9a5222"/>
<rect x="622" y="158.7" width="22.5" height="16.6" fill="#111"/>
<ellipse cx="622.5" cy="167" rx="2.6" ry="8.3" fill="#808080"/>
<ellipse cx="713" cy="145.5" rx="7.8" ry="10.3" fill="none" stroke="#111" stroke-width="1.2" stroke-dasharray="2.4 1.6"/>
<line x1="708" y1="138" x2="830" y2="18" stroke="#111" stroke-width="1.4" stroke-dasharray="3.2 2"/>
<line x1="726" y1="170" x2="850" y2="273" stroke="#111" stroke-width="1.4" stroke-dasharray="3.2 2"/>
<ellipse cx="869.5" cy="140" rx="101" ry="136" fill="#fff" stroke="#111" stroke-width="1.6" stroke-dasharray="3.6 2.2"/>
<polygon points="869.4,16 858.3,251.4 881.7,251.4" fill="#7a3418"/>
<text x="0" y="0" font-size="12.5" fill="#fff" transform="translate(875.5,249) rotate(-90)" textLength="96" lengthAdjust="spacingAndGlyphs">MnO<tspan font-size="9" dy="3">2</tspan><tspan dy="-3"> nanoneedle</tspan></text>
<ellipse cx="840.3" cy="35.7" rx="5.6" ry="4.9" fill="url(#bB)"/>
<ellipse cx="882.9" cy="35.7" rx="5.6" ry="4.9" fill="url(#bR)"/>
<ellipse cx="863.4" cy="36.4" rx="5.6" ry="4.9" fill="url(#bB)"/>
<ellipse cx="851.2" cy="41.2" rx="5.6" ry="4.9" fill="url(#bY)"/>
<ellipse cx="908.0" cy="41.4" rx="5.6" ry="4.9" fill="url(#bY)"/>
<ellipse cx="896.0" cy="41.8" rx="5.6" ry="4.9" fill="url(#bY)"/>
<ellipse cx="919.4" cy="41.8" rx="5.6" ry="4.9" fill="url(#bY)"/>
<ellipse cx="885.8" cy="45.8" rx="5.6" ry="4.9" fill="url(#bY)"/>
<ellipse cx="928.8" cy="48.0" rx="5.6" ry="4.9" fill="url(#bY)"/>
<ellipse cx="876.4" cy="52.3" rx="5.6" ry="4.9" fill="url(#bR)"/>
<ellipse cx="891.7" cy="53.8" rx="5.6" ry="4.9" fill="url(#bR)"/>
<ellipse cx="933.8" cy="57.6" rx="5.6" ry="4.9" fill="url(#bY)"/>
<ellipse cx="854.7" cy="63.2" rx="5.6" ry="4.9" fill="url(#bR)"/>
<ellipse cx="933.8" cy="67.6" rx="5.6" ry="4.9" fill="url(#bY)"/>
<ellipse cx="841.0" cy="69.1" rx="5.6" ry="4.9" fill="url(#bY)"/>
<ellipse cx="828.5" cy="69.1" rx="5.6" ry="4.9" fill="url(#bY)"/>
<ellipse cx="817.0" cy="69.8" rx="5.6" ry="4.9" fill="url(#bY)"/>
<ellipse cx="851.2" cy="73.5" rx="5.6" ry="4.9" fill="url(#bY)"/>
<ellipse cx="807.6" cy="75.7" rx="5.6" ry="4.9" fill="url(#bY)"/>
<ellipse cx="928.8" cy="77.2" rx="5.6" ry="4.9" fill="url(#bY)"/>
<ellipse cx="860.0" cy="79.4" rx="5.6" ry="4.9" fill="url(#bR)"/>
<ellipse cx="845.3" cy="81.1" rx="5.6" ry="4.9" fill="url(#bR)"/>
<ellipse cx="919.4" cy="83.3" rx="5.6" ry="4.9" fill="url(#bY)"/>
<ellipse cx="803.8" cy="85.0" rx="5.6" ry="4.9" fill="url(#bY)"/>
<ellipse cx="884.5" cy="86.6" rx="5.6" ry="4.9" fill="url(#bR)"/>
<ellipse cx="909.8" cy="88.8" rx="5.6" ry="4.9" fill="url(#bY)"/>
<ellipse cx="899.3" cy="93.1" rx="5.6" ry="4.9" fill="url(#bY)"/>
<ellipse cx="803.8" cy="95.3" rx="5.6" ry="4.9" fill="url(#bY)"/>
<ellipse cx="888.0" cy="96.4" rx="5.6" ry="4.9" fill="url(#bY)"/>
<ellipse cx="879.2" cy="103.4" rx="5.6" ry="4.9" fill="url(#bR)"/>
<ellipse cx="893.8" cy="104.0" rx="5.6" ry="4.9" fill="url(#bR)"/>
<ellipse cx="807.6" cy="104.7" rx="5.6" ry="4.9" fill="url(#bY)"/>
<ellipse cx="817.0" cy="110.6" rx="5.6" ry="4.9" fill="url(#bY)"/>
<ellipse cx="851.9" cy="114.3" rx="5.6" ry="4.9" fill="url(#bR)"/>
<ellipse cx="827.2" cy="116.0" rx="5.6" ry="4.9" fill="url(#bY)"/>
<ellipse cx="837.7" cy="120.0" rx="5.6" ry="4.9" fill="url(#bY)"/>
<ellipse cx="932.5" cy="122.6" rx="5.6" ry="4.9" fill="url(#bY)"/>
<ellipse cx="910.7" cy="123.7" rx="5.6" ry="4.9" fill="url(#bY)"/>
<ellipse cx="848.2" cy="124.4" rx="5.6" ry="4.9" fill="url(#bY)"/>
<ellipse cx="891.7" cy="124.4" rx="5.6" ry="4.9" fill="url(#bY)"/>
<ellipse cx="880.0" cy="125.9" rx="5.6" ry="4.9" fill="url(#bB)"/>
<ellipse cx="943.4" cy="127.0" rx="5.6" ry="4.9" fill="url(#bB)"/>
<ellipse cx="921.6" cy="127.4" rx="5.6" ry="4.9" fill="url(#bY)"/>
<ellipse cx="857.3" cy="130.3" rx="5.6" ry="4.9" fill="url(#bR)"/>
<ellipse cx="901.9" cy="130.3" rx="5.6" ry="4.9" fill="url(#bY)"/>
<ellipse cx="842.0" cy="131.8" rx="5.6" ry="4.9" fill="url(#bR)"/>
<ellipse cx="857.7" cy="131.9" rx="5.6" ry="4.9" fill="url(#bR)"/>
<ellipse cx="842.3" cy="132.4" rx="5.6" ry="4.9" fill="url(#bR)"/>
<ellipse cx="837.5" cy="146.6" rx="5.6" ry="4.9" fill="url(#bY)"/>
<ellipse cx="858.2" cy="146.6" rx="5.6" ry="4.9" fill="url(#bB)"/>
<ellipse cx="796.5" cy="147.0" rx="5.6" ry="4.9" fill="url(#bY)"/>
<ellipse cx="815.0" cy="147.0" rx="5.6" ry="4.9" fill="url(#bY)"/>
<ellipse cx="888.9" cy="148.5" rx="5.6" ry="4.9" fill="url(#bR)"/>
<ellipse cx="783.7" cy="150.1" rx="5.6" ry="4.9" fill="url(#bB)"/>
<ellipse cx="848.2" cy="151.3" rx="5.6" ry="4.9" fill="url(#bY)"/>
<ellipse cx="826.4" cy="151.8" rx="5.6" ry="4.9" fill="url(#bY)"/>
<ellipse cx="806.7" cy="153.7" rx="5.6" ry="4.9" fill="url(#bY)"/>
<ellipse cx="902.7" cy="153.7" rx="5.6" ry="4.9" fill="url(#bY)"/>
<ellipse cx="915.0" cy="153.7" rx="5.6" ry="4.9" fill="url(#bY)"/>
<ellipse cx="926.4" cy="154.2" rx="5.6" ry="4.9" fill="url(#bY)"/>
<ellipse cx="892.0" cy="158.4" rx="5.6" ry="4.9" fill="url(#bY)"/>
<ellipse cx="936.3" cy="160.3" rx="5.6" ry="4.9" fill="url(#bY)"/>
<ellipse cx="882.5" cy="164.4" rx="5.6" ry="4.9" fill="url(#bR)"/>
<ellipse cx="849.4" cy="165.5" rx="5.6" ry="4.9" fill="url(#bR)"/>
<ellipse cx="898.4" cy="166.0" rx="5.6" ry="4.9" fill="url(#bR)"/>
<ellipse cx="940.6" cy="170.8" rx="5.6" ry="4.9" fill="url(#bY)"/>
<ellipse cx="835.2" cy="172.2" rx="5.6" ry="4.9" fill="url(#bY)"/>
<ellipse cx="824.0" cy="172.2" rx="5.6" ry="4.9" fill="url(#bY)"/>
<ellipse cx="813.1" cy="172.2" rx="5.6" ry="4.9" fill="url(#bY)"/>
<ellipse cx="847.0" cy="176.2" rx="5.6" ry="4.9" fill="url(#bY)"/>
<ellipse cx="803.2" cy="178.6" rx="5.6" ry="4.9" fill="url(#bY)"/>
<ellipse cx="940.6" cy="180.2" rx="5.6" ry="4.9" fill="url(#bY)"/>
<ellipse cx="855.8" cy="182.1" rx="5.6" ry="4.9" fill="url(#bR)"/>
<ellipse cx="839.9" cy="184.0" rx="5.6" ry="4.9" fill="url(#bR)"/>
<ellipse cx="798.0" cy="187.3" rx="5.6" ry="4.9" fill="url(#bY)"/>
<ellipse cx="935.4" cy="189.7" rx="5.6" ry="4.9" fill="url(#bY)"/>
<ellipse cx="926.8" cy="195.9" rx="5.6" ry="4.9" fill="url(#bY)"/>
<ellipse cx="798.0" cy="198.2" rx="5.6" ry="4.9" fill="url(#bY)"/>
<ellipse cx="892.0" cy="199.9" rx="5.6" ry="4.9" fill="url(#bR)"/>
<ellipse cx="916.9" cy="201.6" rx="5.6" ry="4.9" fill="url(#bY)"/>
<ellipse cx="905.0" cy="205.8" rx="5.6" ry="4.9" fill="url(#bY)"/>
<ellipse cx="803.2" cy="207.0" rx="5.6" ry="4.9" fill="url(#bY)"/>
<ellipse cx="895.0" cy="209.4" rx="5.6" ry="4.9" fill="url(#bY)"/>
<ellipse cx="812.7" cy="213.4" rx="5.6" ry="4.9" fill="url(#bY)"/>
<ellipse cx="885.6" cy="216.5" rx="5.6" ry="4.9" fill="url(#bR)"/>
<ellipse cx="901.5" cy="217.2" rx="5.6" ry="4.9" fill="url(#bR)"/>
<ellipse cx="847.0" cy="217.7" rx="5.6" ry="4.9" fill="url(#bR)"/>
<ellipse cx="822.1" cy="219.6" rx="5.6" ry="4.9" fill="url(#bY)"/>
<ellipse cx="832.8" cy="222.9" rx="5.6" ry="4.9" fill="url(#bY)"/>
<ellipse cx="843.9" cy="227.2" rx="5.6" ry="4.9" fill="url(#bY)"/>
<ellipse cx="853.4" cy="233.8" rx="5.6" ry="4.9" fill="url(#bR)"/>
<ellipse cx="838.7" cy="234.3" rx="5.6" ry="4.9" fill="url(#bR)"/>
<ellipse cx="906.0" cy="237.5" rx="5.6" ry="4.9" fill="url(#bY)"/>
<ellipse cx="925.8" cy="237.8" rx="5.6" ry="4.9" fill="url(#bB)"/>
<ellipse cx="884.9" cy="238.0" rx="5.6" ry="4.9" fill="url(#bB)"/>
<ellipse cx="916.2" cy="242.0" rx="5.6" ry="4.9" fill="url(#bY)"/>
<ellipse cx="895.0" cy="242.4" rx="5.6" ry="4.9" fill="url(#bY)"/>
<ellipse cx="885.1" cy="47.3" rx="20.7" ry="17.5" fill="none" stroke="#3a5080" stroke-width="1.3" stroke-dasharray="3 2"/>
<text x="754.5" y="15.0" font-size="11.5" font-weight="normal" fill="#222" text-anchor="middle" textLength="78" lengthAdjust="spacingAndGlyphs" >Sodium sulfide</text>
<text x="754.5" y="30" font-size="11.5" fill="#222" text-anchor="middle">(Na<tspan font-size="8" dy="2">2</tspan><tspan dy="-2">S)</tspan></text>
<line x1="779" y1="26.3" x2="828.5" y2="34.4" stroke="#3a66a8" stroke-width="1.2"/>
<line x1="828.5" y1="34.4" x2="822.8" y2="30.4" stroke="#3a66a8" stroke-width="1.2"/>
<line x1="828.5" y1="34.4" x2="821.8" y2="36.4" stroke="#3a66a8" stroke-width="1.2"/>
<text x="934.6" y="15" font-size="11.5" fill="#222">Thiosulphate  (S<tspan font-size="8" dy="2">2</tspan><tspan dy="-2">O</tspan><tspan font-size="8" dy="2">3</tspan><tspan font-size="8" dy="-6">2−</tspan><tspan dy="4">)</tspan></text>
<line x1="930.8" y1="15.8" x2="900" y2="31.9" stroke="#3a66a8" stroke-width="1.2"/>
<line x1="900" y1="31.9" x2="907.0" y2="31.7" stroke="#3a66a8" stroke-width="1.2"/>
<line x1="900" y1="31.9" x2="904.2" y2="26.3" stroke="#3a66a8" stroke-width="1.2"/>
<text x="1020.5" y="59.0" font-size="11.5" font-weight="normal" fill="#222" text-anchor="middle" textLength="65" lengthAdjust="spacingAndGlyphs" >Polythionate</text>
<text x="1020.5" y="72.0" font-size="11.5" font-weight="normal" fill="#222" text-anchor="middle" >complex</text>
<line x1="979" y1="62.5" x2="942.2" y2="62.5" stroke="#3a66a8" stroke-width="1.2"/>
<line x1="942.2" y1="62.5" x2="948.5" y2="65.5" stroke="#3a66a8" stroke-width="1.2"/>
<line x1="942.2" y1="62.5" x2="948.5" y2="59.5" stroke="#3a66a8" stroke-width="1.2"/>
<text x="1036.5" y="123.0" font-size="11.5" font-weight="normal" fill="#222" text-anchor="middle" >Sodium</text>
<text x="1036.5" y="136.0" font-size="11.5" font-weight="normal" fill="#222" text-anchor="middle" textLength="61" lengthAdjust="spacingAndGlyphs" >polysulfide</text>
<line x1="1007.3" y1="125.8" x2="957.5" y2="125.8" stroke="#3a66a8" stroke-width="1.2"/>
<line x1="957.5" y1="125.8" x2="963.8" y2="128.8" stroke="#3a66a8" stroke-width="1.2"/>
<line x1="957.5" y1="125.8" x2="963.8" y2="122.8" stroke="#3a66a8" stroke-width="1.2"/>
<text x="1011.5" y="226.0" font-size="11.5" font-weight="normal" fill="#222" text-anchor="middle" textLength="65" lengthAdjust="spacingAndGlyphs" >Polythionate</text>
<text x="1011.5" y="239.0" font-size="11.5" font-weight="normal" fill="#222" text-anchor="middle" >complex</text>
<line x1="973.9" y1="215.8" x2="938.2" y2="198" stroke="#3a66a8" stroke-width="1.2"/>
<line x1="938.2" y1="198" x2="942.5" y2="203.5" stroke="#3a66a8" stroke-width="1.2"/>
<line x1="938.2" y1="198" x2="945.2" y2="198.1" stroke="#3a66a8" stroke-width="1.2"/>
<ellipse cx="636.2" cy="209.7" rx="5.6" ry="4.9" fill="url(#bB)"/>
<text x="651.0" y="213.7" font-size="11.5" font-weight="normal" fill="#2a6aae" text-anchor="start" textLength="67" lengthAdjust="spacingAndGlyphs" >Sodium (Na)</text>
<ellipse cx="636.2" cy="229.8" rx="5.6" ry="4.9" fill="url(#bY)"/>
<text x="651.0" y="233.8" font-size="11.5" font-weight="normal" fill="#e8cc38" text-anchor="start" textLength="50" lengthAdjust="spacingAndGlyphs" >Sulfur (S)</text>
<ellipse cx="636.2" cy="249.3" rx="5.6" ry="4.9" fill="url(#bR)"/>
<text x="649.4" y="253.3" font-size="11.5" font-weight="normal" fill="#a82838" text-anchor="start" textLength="63" lengthAdjust="spacingAndGlyphs" >Oxygen (O)</text>
<text x="-1.5" y="302.0" font-size="26" font-weight="normal" fill="#000" text-anchor="start" textLength="30.5" lengthAdjust="spacingAndGlyphs" >(c)</text>
<defs>
<linearGradient id="gGG" x1="0" x2="1" y1="0" y2="0">
 <stop offset="0" stop-color="#a8a7a9"/><stop offset="1" stop-color="#98c898"/>
</linearGradient>
<linearGradient id="gG1" x1="0" x2="1" y1="0" y2="0">
 <stop offset="0" stop-color="#98c898"/><stop offset="1" stop-color="#a2d088"/>
</linearGradient>
<linearGradient id="gGO" x1="0" x2="1" y1="0" y2="0">
 <stop offset="0" stop-color="#a8cc88"/><stop offset="0.7" stop-color="#a8cc88"/><stop offset="1" stop-color="#d8b080"/>
</linearGradient>
<pattern id="grid" width="3" height="3" patternUnits="userSpaceOnUse">
 <rect width="3" height="3" fill="none"/>
 <line x1="0" y1="0.5" x2="3" y2="0.5" stroke="#fff" stroke-opacity="0.10" stroke-width="1"/>
 <line x1="0.5" y1="0" x2="0.5" y2="3" stroke="#000" stroke-opacity="0.05" stroke-width="1"/>
</pattern>
</defs>
<rect x="35" y="278.5" width="333" height="263.5" fill="#a8a7a9"/>
<rect x="367.5" y="278.5" width="21" height="263.5" fill="url(#gGG)"/>
<rect x="388" y="278.5" width="30" height="263.5" fill="url(#gG1)"/>
<rect x="417.5" y="278.5" width="101" height="263.5" fill="#badaa1"/>
<rect x="518" y="278.5" width="19" height="263.5" fill="url(#gGO)"/>
<rect x="537" y="278.5" width="6" height="263.5" fill="#ee7a66"/>
<rect x="543" y="278.5" width="169" height="263.5" fill="#f3856a"/>
<rect x="35" y="278.5" width="677" height="263.5" fill="none" stroke="#1e1e1e" stroke-width="2.6"/>
<line x1="35" y1="337" x2="712" y2="337" stroke="#1e1e1e" stroke-width="2.2"/>
<text x="209.0" y="314.0" font-size="15.5" font-weight="bold" fill="#1a1a1a" text-anchor="middle" textLength="67.5" lengthAdjust="spacingAndGlyphs" stroke="#1a1a1a" stroke-width="0.3">No redox</text>
<text x="455.0" y="304.5" font-size="15.5" font-weight="bold" fill="#1a1a1a" text-anchor="middle" textLength="63.5" lengthAdjust="spacingAndGlyphs" stroke="#1a1a1a" stroke-width="0.3">Redox to</text>
<text x="456.0" y="324.5" font-size="15.5" font-weight="bold" fill="#1a1a1a" text-anchor="middle" textLength="80.3" lengthAdjust="spacingAndGlyphs" stroke="#1a1a1a" stroke-width="0.3">thiosulfate</text>
<text x="621.8" y="304.5" font-size="15.5" font-weight="bold" fill="#1a1a1a" text-anchor="middle" textLength="64" lengthAdjust="spacingAndGlyphs" stroke="#1a1a1a" stroke-width="0.3">Redox to</text>
<text x="621.0" y="324.5" font-size="15.5" font-weight="bold" fill="#1a1a1a" text-anchor="middle" textLength="151" lengthAdjust="spacingAndGlyphs" stroke="#1a1a1a" stroke-width="0.3">thiosulfate &amp; sulfate</text>
<line x1="43" y1="442.5" x2="697" y2="442.5" stroke="#1e1e1e" stroke-width="4.4"/>
<polyline points="682,434 699,442.5 682,451" fill="none" stroke="#1e1e1e" stroke-width="4.4" stroke-linejoin="miter"/>
<line x1="43" y1="430.0" x2="43" y2="442.5" stroke="#1e1e1e" stroke-width="2.6"/>
<line x1="115.6" y1="436.5" x2="115.6" y2="442.5" stroke="#1e1e1e" stroke-width="2.6"/>
<line x1="191.6" y1="430.0" x2="191.6" y2="442.5" stroke="#1e1e1e" stroke-width="2.6"/>
<line x1="268.4" y1="436.5" x2="268.4" y2="442.5" stroke="#1e1e1e" stroke-width="2.6"/>
<line x1="337.8" y1="430.0" x2="337.8" y2="442.5" stroke="#1e1e1e" stroke-width="2.6"/>
<line x1="414" y1="436.5" x2="414" y2="442.5" stroke="#1e1e1e" stroke-width="2.6"/>
<line x1="484.6" y1="430.0" x2="484.6" y2="442.5" stroke="#1e1e1e" stroke-width="2.6"/>
<line x1="554.1" y1="436.5" x2="554.1" y2="442.5" stroke="#1e1e1e" stroke-width="2.6"/>
<line x1="623" y1="430.0" x2="623" y2="442.5" stroke="#1e1e1e" stroke-width="2.6"/>
<text x="43.5" y="467.0" font-size="25" font-weight="bold" fill="#1e1e1e" text-anchor="middle" >0</text>
<text x="189.5" y="467.0" font-size="25" font-weight="bold" fill="#1e1e1e" text-anchor="middle" >1</text>
<text x="336.0" y="467.0" font-size="25" font-weight="bold" fill="#1e1e1e" text-anchor="middle" >2</text>
<text x="481.5" y="467.0" font-size="25" font-weight="bold" fill="#1e1e1e" text-anchor="middle" >3</text>
<text x="630.0" y="467.0" font-size="24" font-weight="bold" fill="#1e1e1e" text-anchor="middle" textLength="41" lengthAdjust="spacingAndGlyphs" >4 V</text>
<polyline points="146.2,369.5 187.0,369.5 220.0,519.0 239.0,519.0" fill="none" stroke="#2a2a2a" stroke-width="1.35"/>
<polyline points="201.2,367.7 227.5,367.7 240.6,442.0" fill="none" stroke="#2a2a2a" stroke-width="1.35"/>
<polyline points="199.0,400.4 219.8,400.4 227.5,442.0" fill="none" stroke="#2a2a2a" stroke-width="1.35"/>
<polyline points="282.2,402.2 264.4,402.2 247.1,442.0" fill="none" stroke="#2a2a2a" stroke-width="1.35"/>
<polyline points="317.3,402.2 297.8,402.2 281.8,442.0" fill="none" stroke="#2a2a2a" stroke-width="1.35"/>
<polyline points="137.3,442.0 154.4,475.6 173.3,475.6" fill="none" stroke="#2a2a2a" stroke-width="1.35"/>
<polyline points="201.2,442.0 216.5,475.0 236.2,475.0" fill="none" stroke="#2a2a2a" stroke-width="1.35"/>
<polyline points="252.2,442.0 268.4,475.6 287.8,475.6" fill="none" stroke="#2a2a2a" stroke-width="1.35"/>
<polyline points="462.3,401.0 480.3,401.0 487.9,442.0" fill="none" stroke="#2a2a2a" stroke-width="1.35"/>
<polyline points="544.3,442.0 560.7,402.0 579.7,402.0" fill="none" stroke="#2a2a2a" stroke-width="1.35"/>
<polyline points="560.7,442.0 578.7,474.8 598.4,474.8" fill="none" stroke="#2a2a2a" stroke-width="1.35"/>
<polyline points="454.0,442.0 464.0,478.7 482.0,478.7" fill="none" stroke="#2a2a2a" stroke-width="1.35"/>
<polyline points="420.3,442.0 438.7,504.3 456.4,504.3" fill="none" stroke="#2a2a2a" stroke-width="1.35"/>
<text x="141.8" y="361.0" font-size="16" font-weight="bold" fill="#1e1e1e" stroke="#1e1e1e" stroke-width="0.35" textLength="47" lengthAdjust="spacingAndGlyphs"><tspan>Co</tspan><tspan font-size="11.5" dy="4">3</tspan><tspan dy="-4"></tspan><tspan>O</tspan><tspan font-size="11.5" dy="4">4</tspan><tspan dy="-4"></tspan></text>
<text x="197.3" y="361.0" font-size="16" font-weight="bold" fill="#1e1e1e" stroke="#1e1e1e" stroke-width="0.35" textLength="29.4" lengthAdjust="spacingAndGlyphs"><tspan>NiO</tspan></text>
<text x="190.7" y="394.4" font-size="16" font-weight="bold" fill="#1e1e1e" stroke="#1e1e1e" stroke-width="0.35" textLength="40.3" lengthAdjust="spacingAndGlyphs"><tspan>Ti</tspan><tspan font-size="11.5" dy="4">4</tspan><tspan dy="-4"></tspan><tspan>O</tspan><tspan font-size="11.5" dy="4">7</tspan><tspan dy="-4"></tspan></text>
<text x="261.8" y="390.0" font-size="16" font-weight="bold" fill="#1e1e1e" stroke="#1e1e1e" stroke-width="0.35" textLength="39.2" lengthAdjust="spacingAndGlyphs"><tspan>Cu</tspan><tspan font-size="11.5" dy="4">2</tspan><tspan dy="-4"></tspan><tspan>O</tspan></text>
<text x="312.2" y="390.0" font-size="16" font-weight="bold" fill="#1e1e1e" stroke="#1e1e1e" stroke-width="0.35" textLength="34.5" lengthAdjust="spacingAndGlyphs"><tspan>TiO</tspan><tspan font-size="11.5" dy="4">2</tspan><tspan dy="-4"></tspan></text>
<text x="141.0" y="491.0" font-size="16" font-weight="bold" fill="#1e1e1e" stroke="#1e1e1e" stroke-width="0.35" textLength="44.6" lengthAdjust="spacingAndGlyphs"><tspan>Fe</tspan><tspan font-size="11.5" dy="4">2</tspan><tspan dy="-4"></tspan><tspan>O</tspan><tspan font-size="11.5" dy="4">3</tspan><tspan dy="-4"></tspan></text>
<circle cx="190" cy="479.5" r="1.5" fill="#1e1e1e"/>
<text x="219.6" y="496.5" font-size="16" font-weight="bold" fill="#1e1e1e" stroke="#1e1e1e" stroke-width="0.35" textLength="37" lengthAdjust="spacingAndGlyphs"><tspan>V</tspan><tspan font-size="11.5" dy="4">2</tspan><tspan dy="-4"></tspan><tspan>O</tspan><tspan font-size="11.5" dy="4">3</tspan><tspan dy="-4"></tspan></text>
<text x="267.8" y="494.4" font-size="16" font-weight="bold" fill="#1e1e1e" stroke="#1e1e1e" stroke-width="0.35" textLength="33.2" lengthAdjust="spacingAndGlyphs"><tspan>CoO</tspan></text>
<text x="220.0" y="535.6" font-size="16" font-weight="bold" fill="#1e1e1e" stroke="#1e1e1e" stroke-width="0.35" textLength="44.4" lengthAdjust="spacingAndGlyphs"><tspan>Fe</tspan><tspan font-size="11.5" dy="4">3</tspan><tspan dy="-4"></tspan><tspan>O</tspan><tspan font-size="11.5" dy="4">4</tspan><tspan dy="-4"></tspan></text>
<circle cx="268.4" cy="524.5" r="1.5" fill="#1e1e1e"/>
<text x="437.7" y="392.1" font-size="16" font-weight="bold" fill="#1e1e1e" stroke="#1e1e1e" stroke-width="0.35" textLength="48.2" lengthAdjust="spacingAndGlyphs"><tspan>MnO</tspan><tspan font-size="11.5" dy="4">2</tspan><tspan dy="-4"></tspan></text>
<text x="544.3" y="396.0" font-size="16" font-weight="bold" fill="#1e1e1e" stroke="#1e1e1e" stroke-width="0.35" textLength="39.3" lengthAdjust="spacingAndGlyphs"><tspan>V</tspan><tspan font-size="11.5" dy="4">2</tspan><tspan dy="-4"></tspan><tspan>O</tspan><tspan font-size="11.5" dy="4">5</tspan><tspan dy="-4"></tspan></text>
<text x="455.0" y="495.0" font-size="16" font-weight="bold" fill="#1e1e1e" stroke="#1e1e1e" stroke-width="0.35" textLength="31.9" lengthAdjust="spacingAndGlyphs"><tspan>VO</tspan><tspan font-size="11.5" dy="4">2</tspan><tspan dy="-4"></tspan></text>
<text x="424.6" y="520.0" font-size="16" font-weight="bold" fill="#1e1e1e" stroke="#1e1e1e" stroke-width="0.35" textLength="32.8" lengthAdjust="spacingAndGlyphs"><tspan>CuO</tspan></text>
<text x="577.0" y="496.0" font-size="16" font-weight="bold" fill="#1e1e1e" stroke="#1e1e1e" stroke-width="0.35" textLength="57.4" lengthAdjust="spacingAndGlyphs"><tspan>NiOOH</tspan></text>
<path d="M299.4,450 C320,447 340,445 351.5,442.5 C356,440.5 358.5,434 361,422 C364,400 368,380 373,368 C376,361 380,358.5 383,359.4 C385.5,360.5 387,365 389,364.5 C390.5,363 391.5,354 393,353.6 C395,354 396,358 397,368 C398,400 399,430 401,441 C402,443.5 404,443.5 410,443 L469,443" fill="none" stroke="#e0403a" stroke-width="2.7" stroke-linejoin="round"/>
<path d="M299.4,450 C306,451 312,452 315,458 C319,468 322,500 324.5,524 C325.5,533 327,536 328.5,530 C331,510 335,480 339,465 C341,457 342,454 346,454 L353,454 C357,455 360,470 362.5,476 C364.5,480.5 367,481 369,475 C372,466 376,456 380,450 C384,445 388,444 394,443.5 L401,443" fill="none" stroke="#e0403a" stroke-width="2.7" stroke-linejoin="round"/>
<text x="737.5" y="303.0" font-size="26" font-weight="normal" fill="#000" text-anchor="start" textLength="32.5" lengthAdjust="spacingAndGlyphs" >(d)</text>
<rect x="805" y="283" width="261.5" height="217.5" fill="#fff" stroke="#111" stroke-width="1.8"/>
<path d="M806.0,485.4 L806.5,485.4 L807.0,485.3 L807.5,485.3 L808.0,485.3 L808.5,485.3 L809.0,485.3 L809.5,485.3 L810.0,485.3 L810.5,485.2 L811.0,485.2 L811.5,485.2 L812.0,485.2 L812.5,485.2 L813.0,485.2 L813.5,485.1 L814.0,485.1 L814.5,485.1 L815.0,485.1 L815.5,485.1 L816.0,485.0 L816.5,485.0 L817.0,485.0 L817.5,485.0 L818.0,485.0 L818.5,484.9 L819.0,484.9 L819.5,484.9 L820.0,484.9 L820.5,484.9 L821.0,484.8 L821.5,484.8 L822.0,484.8 L822.5,484.8 L823.0,484.7 L823.5,484.7 L824.0,484.7 L824.5,484.6 L825.0,484.6 L825.5,484.6 L826.0,484.6 L826.5,484.5 L827.0,484.5 L827.5,484.5 L828.0,484.4 L828.5,484.4 L829.0,484.3 L829.5,484.3 L830.0,484.3 L830.5,484.2 L831.0,484.2 L831.5,484.1 L832.1,484.1 L832.6,484.1 L833.1,484.0 L833.6,484.0 L834.1,483.9 L834.6,483.9 L835.1,483.8 L835.6,483.8 L836.1,483.7 L836.6,483.7 L837.1,483.6 L837.6,483.5 L838.1,483.5 L838.6,483.4 L839.1,483.3 L839.6,483.3 L840.1,483.2 L840.6,483.1 L841.1,483.0 L841.6,482.9 L842.1,482.9 L842.6,482.8 L843.1,482.7 L843.6,482.6 L844.1,482.5 L844.6,482.3 L845.1,482.2 L845.6,482.1 L846.1,481.9 L846.6,481.8 L847.1,481.6 L847.6,481.4 L848.1,481.3 L848.6,481.1 L849.1,480.8 L849.6,480.6 L850.1,480.3 L850.6,480.0 L851.1,479.7 L851.6,479.4 L852.1,479.0 L852.6,478.5 L853.1,478.1 L853.6,477.6 L854.1,477.0 L854.6,476.4 L855.1,475.7 L855.6,475.0 L856.1,474.1 L856.6,473.2 L857.1,472.3 L857.6,471.2 L858.1,470.0 L858.6,468.8 L859.1,467.4 L859.6,465.9 L860.1,464.3 L860.6,462.6 L861.1,460.8 L861.6,458.8 L862.1,456.7 L862.6,454.5 L863.1,452.1 L863.6,449.6 L864.1,447.0 L864.6,444.2 L865.1,441.3 L865.6,438.3 L866.1,435.2 L866.6,432.0 L867.1,428.7 L867.6,425.3 L868.1,421.9 L868.6,418.4 L869.1,414.9 L869.6,411.3 L870.1,407.8 L870.6,404.3 L871.1,400.9 L871.6,397.6 L872.1,394.3 L872.6,391.3 L873.1,388.4 L873.6,385.7 L874.1,383.3 L874.6,381.2 L875.1,379.4 L875.6,377.9 L876.1,376.8 L876.6,376.1 L877.1,375.7 L877.6,375.8 L878.1,376.3 L878.6,377.1 L879.1,378.4 L879.6,379.9 L880.1,381.9 L880.6,384.1 L881.1,386.6 L881.6,389.3 L882.1,392.3 L882.6,395.4 L883.1,398.7 L883.6,402.0 L884.2,405.5 L884.7,409.0 L885.2,412.5 L885.7,416.0 L886.2,419.6 L886.7,423.0 L887.2,426.4 L887.7,429.8 L888.2,433.1 L888.7,436.2 L889.2,439.3 L889.7,442.3 L890.2,445.1 L890.7,447.8 L891.2,450.4 L891.7,452.8 L892.2,455.1 L892.7,457.3 L893.2,459.3 L893.7,461.3 L894.2,463.1 L894.7,464.7 L895.2,466.3 L895.7,467.7 L896.2,469.0 L896.7,470.3 L897.2,471.4 L897.7,472.4 L898.2,473.4 L898.7,474.2 L899.2,475.0 L899.7,475.7 L900.2,476.4 L900.7,477.0 L901.2,477.5 L901.7,478.0 L902.2,478.5 L902.7,478.9 L903.2,479.2 L903.7,479.6 L904.2,479.9 L904.7,480.2 L905.2,480.4 L905.7,480.6 L906.2,480.9 L906.7,481.1 L907.2,481.2 L907.7,481.4 L908.2,481.6 L908.7,481.7 L909.2,481.8 L909.7,482.0 L910.2,482.1 L910.7,482.2 L911.2,482.3 L911.7,482.4 L912.2,482.5 L912.7,482.6 L913.2,482.6 L913.7,482.7 L914.2,482.8 L914.7,482.9 L915.2,482.9 L915.7,483.0 L916.2,483.1 L916.7,483.1 L917.2,483.2 L917.7,483.2 L918.2,483.3 L918.7,483.3 L919.2,483.4 L919.7,483.4 L920.2,483.5 L920.7,483.5 L921.2,483.6 L921.7,483.6 L922.2,483.7 L922.7,483.7 L923.2,483.7 L923.7,483.8 L924.2,483.8 L924.7,483.8 L925.2,483.9 L925.7,483.9 L926.2,483.9 L926.7,484.0 L927.2,484.0 L927.7,484.0 L928.2,484.1 L928.7,484.1 L929.2,484.1 L929.7,484.1 L930.2,484.2 L930.7,484.2 L931.2,484.2 L931.7,484.2 L932.2,484.3 L932.7,484.3 L933.2,484.3 L933.7,484.3 L934.2,484.3 L934.7,484.4 L935.2,484.4 L935.8,484.4 L936.3,484.4 L936.8,484.4 L937.3,484.4 L937.8,484.5 L938.3,484.5 L938.8,484.5 L939.3,484.5 L939.8,484.5 L940.3,484.5 L940.8,484.5 L941.3,484.6 L941.8,484.6 L942.3,484.6 L942.8,484.6 L943.3,484.6 L943.8,484.6 L944.3,484.6 L944.8,484.6 L945.3,484.7 L945.8,484.7 L946.3,484.7 L946.8,484.7 L947.3,484.7 L947.8,484.7 L948.3,484.7 L948.8,484.7 L949.3,484.7 L949.8,484.7 L950.3,484.8 L950.8,484.8 L951.3,484.8 L951.8,484.8 L952.3,484.8 L952.8,484.8 L953.3,484.8 L953.8,484.8 L954.3,484.8 L954.8,484.8 L955.3,484.8 L955.8,484.8 L956.3,484.8 L956.8,484.8 L957.3,484.8 L957.8,484.9 L958.3,484.9 L958.8,484.9 L959.3,484.9 L959.8,484.9 L960.3,484.9 L960.8,484.9 L961.3,484.9 Z" fill="#a6d8a0" fill-opacity="0.7" stroke="#4a7a40" stroke-opacity="0.7" stroke-width="0.7"/>
<path d="M827.6,485.8 L828.1,485.8 L828.6,485.8 L829.1,485.7 L829.6,485.7 L830.1,485.7 L830.6,485.7 L831.1,485.7 L831.6,485.7 L832.1,485.7 L832.6,485.7 L833.1,485.7 L833.6,485.7 L834.1,485.7 L834.6,485.7 L835.1,485.7 L835.6,485.7 L836.1,485.7 L836.6,485.7 L837.1,485.6 L837.6,485.6 L838.1,485.6 L838.6,485.6 L839.1,485.6 L839.6,485.6 L840.1,485.6 L840.6,485.6 L841.1,485.6 L841.6,485.6 L842.1,485.6 L842.6,485.6 L843.1,485.6 L843.6,485.5 L844.1,485.5 L844.6,485.5 L845.1,485.5 L845.6,485.5 L846.1,485.5 L846.6,485.5 L847.1,485.5 L847.6,485.5 L848.1,485.5 L848.6,485.5 L849.1,485.5 L849.6,485.4 L850.1,485.4 L850.6,485.4 L851.1,485.4 L851.6,485.4 L852.1,485.4 L852.6,485.4 L853.1,485.4 L853.6,485.4 L854.1,485.3 L854.6,485.3 L855.1,485.3 L855.6,485.3 L856.1,485.3 L856.6,485.3 L857.1,485.3 L857.6,485.3 L858.1,485.3 L858.6,485.2 L859.1,485.2 L859.6,485.2 L860.1,485.2 L860.6,485.2 L861.1,485.2 L861.6,485.2 L862.1,485.1 L862.6,485.1 L863.1,485.1 L863.6,485.1 L864.1,485.1 L864.6,485.1 L865.1,485.1 L865.6,485.0 L866.1,485.0 L866.6,485.0 L867.1,485.0 L867.6,485.0 L868.1,484.9 L868.6,484.9 L869.1,484.9 L869.6,484.9 L870.1,484.9 L870.6,484.8 L871.1,484.8 L871.6,484.8 L872.1,484.8 L872.6,484.8 L873.1,484.7 L873.6,484.7 L874.1,484.7 L874.6,484.7 L875.1,484.6 L875.6,484.6 L876.1,484.6 L876.6,484.5 L877.1,484.5 L877.6,484.5 L878.1,484.5 L878.6,484.4 L879.1,484.4 L879.6,484.4 L880.1,484.3 L880.6,484.3 L881.1,484.2 L881.6,484.2 L882.1,484.2 L882.6,484.1 L883.1,484.1 L883.6,484.0 L884.1,484.0 L884.6,483.9 L885.1,483.9 L885.6,483.8 L886.1,483.8 L886.6,483.7 L887.1,483.6 L887.6,483.6 L888.1,483.5 L888.6,483.4 L889.1,483.3 L889.6,483.3 L890.1,483.2 L890.6,483.1 L891.1,483.0 L891.6,482.8 L892.1,482.7 L892.6,482.6 L893.1,482.4 L893.6,482.3 L894.1,482.1 L894.6,481.9 L895.1,481.7 L895.6,481.5 L896.1,481.3 L896.6,481.0 L897.1,480.7 L897.6,480.4 L898.1,480.1 L898.6,479.7 L899.1,479.3 L899.6,478.9 L900.1,478.5 L900.6,478.0 L901.1,477.4 L901.6,476.9 L902.1,476.3 L902.6,475.6 L903.1,474.9 L903.6,474.2 L904.1,473.4 L904.6,472.5 L905.1,471.6 L905.6,470.6 L906.1,469.6 L906.6,468.5 L907.1,467.4 L907.6,466.2 L908.1,465.0 L908.6,463.7 L909.1,462.3 L909.6,460.9 L910.1,459.4 L910.6,457.9 L911.1,456.4 L911.6,454.8 L912.1,453.2 L912.6,451.5 L913.1,449.8 L913.6,448.1 L914.1,446.4 L914.6,444.6 L915.1,442.9 L915.6,441.2 L916.1,439.5 L916.6,437.8 L917.1,436.1 L917.6,434.6 L918.1,433.0 L918.6,431.6 L919.1,430.2 L919.6,429.0 L920.1,427.8 L920.6,426.8 L921.1,425.9 L921.6,425.2 L922.1,424.6 L922.6,424.1 L923.1,423.9 L923.6,423.8 L924.1,423.9 L924.6,424.1 L925.1,424.6 L925.6,425.1 L926.1,425.9 L926.6,426.8 L927.1,427.8 L927.6,428.9 L928.1,430.2 L928.6,431.5 L929.1,433.0 L929.6,434.5 L930.1,436.1 L930.6,437.7 L931.1,439.4 L931.6,441.1 L932.1,442.8 L932.6,444.5 L933.1,446.3 L933.6,448.0 L934.1,449.7 L934.6,451.4 L935.1,453.0 L935.6,454.7 L936.1,456.3 L936.6,457.8 L937.1,459.3 L937.6,460.8 L938.1,462.2 L938.6,463.5 L939.1,464.8 L939.6,466.1 L940.1,467.2 L940.6,468.4 L941.1,469.4 L941.6,470.5 L942.1,471.4 L942.6,472.3 L943.1,473.2 L943.6,474.0 L944.1,474.7 L944.6,475.4 L945.1,476.1 L945.6,476.7 L946.1,477.2 L946.6,477.8 L947.1,478.3 L947.6,478.7 L948.1,479.1 L948.6,479.5 L949.1,479.9 L949.6,480.2 L950.1,480.5 L950.6,480.8 L951.1,481.0 L951.6,481.2 L952.1,481.5 L952.6,481.7 L953.1,481.8 L953.6,482.0 L954.1,482.2 L954.6,482.3 L955.1,482.4 L955.6,482.5 L956.1,482.7 L956.6,482.8 L957.1,482.9 L957.6,482.9 L958.1,483.0 L958.6,483.1 L959.1,483.2 L959.6,483.2 L960.1,483.3 L960.6,483.4 L961.1,483.4 L961.6,483.5 L962.1,483.5 L962.6,483.6 L963.1,483.6 L963.6,483.7 L964.1,483.7 L964.6,483.7 L965.1,483.8 L965.6,483.8 L966.1,483.9 L966.6,483.9 L967.1,483.9 L967.6,484.0 L968.1,484.0 L968.6,484.0 L969.1,484.0 L969.6,484.1 L970.1,484.1 L970.6,484.1 L971.1,484.1 L971.6,484.2 L972.1,484.2 L972.6,484.2 L973.1,484.2 L973.6,484.2 L974.1,484.3 L974.6,484.3 L975.1,484.3 L975.6,484.3 L976.1,484.3 L976.6,484.4 L977.1,484.4 L977.6,484.4 L978.1,484.4 L978.6,484.4 L979.1,484.4 L979.6,484.4 L980.1,484.5 L980.6,484.5 L981.1,484.5 L981.6,484.5 L982.1,484.5 L982.6,484.5 L983.1,484.5 L983.6,484.5 L984.1,484.6 L984.6,484.6 L985.1,484.6 L985.6,484.6 L986.1,484.6 L986.6,484.6 L987.1,484.6 L987.6,484.6 L988.1,484.6 L988.6,484.6 L989.1,484.7 L989.6,484.7 L990.1,484.7 L990.6,484.7 L991.1,484.7 L991.6,484.7 L992.1,484.7 L992.6,484.7 L993.1,484.7 L993.6,484.7 L994.1,484.7 L994.6,484.7 L995.1,484.7 L995.6,484.7 L996.1,484.7 L996.6,484.8 L997.1,484.8 L997.6,484.8 L998.1,484.8 L998.6,484.8 L999.1,484.8 L999.6,484.8 L1000.1,484.8 L1000.6,484.8 L1001.1,484.8 L1001.6,484.8 L1002.1,484.8 L1002.6,484.8 L1003.1,484.8 L1003.6,484.8 L1004.1,484.8 L1004.6,484.8 L1005.1,484.8 L1005.6,484.8 L1006.1,484.8 L1006.6,484.8 L1007.1,484.8 L1007.6,484.8 L1008.1,484.8 L1008.6,484.8 L1009.1,484.8 L1009.6,484.8 L1010.1,484.9 L1010.6,484.9 L1011.1,484.9 L1011.6,484.9 L1012.1,484.9 L1012.6,484.9 L1013.1,484.9 L1013.6,484.9 L1014.1,484.9 L1014.6,484.9 L1015.1,484.9 L1015.6,484.9 L1016.1,484.9 L1016.6,484.9 L1017.1,484.9 L1017.6,484.9 L1018.1,484.9 L1018.6,484.9 L1019.1,484.9 L1019.6,484.9 Z" fill="#a6d8a0" fill-opacity="0.7" stroke="#4a7a40" stroke-opacity="0.7" stroke-width="0.7"/>
<path d="M806.0,485.3 L806.5,485.3 L807.0,485.3 L807.5,485.3 L808.0,485.2 L808.5,485.2 L809.0,485.2 L809.5,485.2 L810.0,485.1 L810.5,485.1 L811.0,485.1 L811.5,485.1 L812.0,485.1 L812.5,485.0 L813.0,485.0 L813.5,485.0 L814.0,484.9 L814.5,484.9 L815.0,484.9 L815.5,484.8 L816.0,484.8 L816.5,484.8 L817.0,484.7 L817.5,484.7 L818.0,484.7 L818.5,484.6 L819.0,484.6 L819.5,484.5 L820.0,484.5 L820.5,484.5 L821.0,484.4 L821.5,484.3 L822.0,484.3 L822.5,484.2 L823.0,484.2 L823.5,484.1 L824.0,484.0 L824.5,484.0 L825.0,483.9 L825.5,483.8 L826.0,483.7 L826.5,483.6 L827.0,483.5 L827.5,483.4 L828.0,483.2 L828.5,483.1 L829.0,483.0 L829.5,482.8 L830.0,482.6 L830.5,482.4 L831.0,482.2 L831.5,482.0 L832.0,481.7 L832.5,481.4 L833.0,481.1 L833.5,480.8 L834.0,480.4 L834.5,480.0 L835.0,479.5 L835.5,479.1 L836.0,478.5 L836.5,478.0 L837.0,477.4 L837.5,476.7 L838.0,476.0 L838.5,475.2 L839.0,474.4 L839.5,473.5 L840.0,472.6 L840.5,471.6 L841.0,470.5 L841.5,469.4 L842.0,468.2 L842.5,467.0 L843.0,465.7 L843.5,464.4 L844.0,462.9 L844.5,461.5 L845.0,460.0 L845.5,458.4 L846.0,456.8 L846.5,455.2 L847.0,453.5 L847.5,451.8 L848.0,450.1 L848.5,448.4 L849.0,446.7 L849.5,445.0 L850.0,443.4 L850.5,441.8 L851.0,440.2 L851.5,438.7 L852.0,437.3 L852.5,435.9 L853.0,434.7 L853.5,433.6 L854.0,432.7 L854.5,431.8 L855.0,431.2 L855.5,430.7 L856.0,430.4 L856.5,430.3 L857.0,430.4 L857.5,430.6 L858.0,431.0 L858.5,431.6 L859.0,432.4 L859.5,433.3 L860.0,434.4 L860.5,435.6 L861.0,436.9 L861.5,438.3 L862.0,439.7 L862.5,441.3 L863.0,442.9 L863.5,444.5 L864.0,446.2 L864.5,447.9 L865.0,449.6 L865.5,451.3 L866.0,453.0 L866.5,454.7 L867.0,456.3 L867.5,457.9 L868.0,459.5 L868.5,461.0 L869.0,462.5 L869.5,463.9 L870.0,465.2 L870.5,466.6 L871.0,467.8 L871.5,469.0 L872.0,470.1 L872.5,471.2 L873.0,472.2 L873.5,473.1 L874.0,474.0 L874.5,474.8 L875.0,475.6 L875.6,476.3 L876.1,477.0 L876.6,477.6 L877.1,478.2 L877.6,478.7 L878.1,479.2 L878.6,479.7 L879.1,480.1 L879.6,480.4 L880.1,480.8 L880.6,481.1 L881.1,481.4 L881.6,481.7 L882.1,481.9 L882.6,482.1 L883.1,482.3 L883.6,482.5 L884.1,482.7 L884.6,482.8 L885.1,483.0 L885.6,483.1 L886.1,483.2 L886.6,483.3 L887.1,483.4 L887.6,483.5 L888.1,483.6 L888.6,483.6 L889.1,483.7 L889.6,483.8 L890.1,483.9 L890.6,483.9 L891.1,484.0 L891.6,484.0 L892.1,484.1 L892.6,484.1 L893.1,484.2 L893.6,484.2 L894.1,484.2 L894.6,484.3 L895.1,484.3 L895.6,484.3 L896.1,484.4 L896.6,484.4 L897.1,484.4 L897.6,484.5 L898.1,484.5 L898.6,484.5 L899.1,484.5 L899.6,484.6 L900.1,484.6 L900.6,484.6 L901.1,484.6 L901.6,484.7 L902.1,484.7 L902.6,484.7 L903.1,484.7 L903.6,484.7 L904.1,484.8 L904.6,484.8 L905.1,484.8 L905.6,484.8 L906.1,484.8 L906.6,484.8 L907.1,484.8 L907.6,484.9 L908.1,484.9 L908.6,484.9 L909.1,484.9 L909.6,484.9 L910.1,484.9 L910.6,484.9 L911.1,484.9 L911.6,485.0 L912.1,485.0 L912.6,485.0 L913.1,485.0 L913.6,485.0 L914.1,485.0 L914.6,485.0 L915.1,485.0 L915.6,485.0 L916.1,485.0 L916.6,485.1 L917.1,485.1 L917.6,485.1 L918.1,485.1 L918.6,485.1 L919.1,485.1 L919.6,485.1 L920.1,485.1 L920.6,485.1 L921.1,485.1 L921.6,485.1 L922.1,485.1 L922.6,485.1 L923.1,485.1 L923.6,485.1 L924.1,485.1 L924.6,485.2 L925.1,485.2 L925.6,485.2 L926.1,485.2 L926.6,485.2 L927.1,485.2 L927.6,485.2 L928.1,485.2 L928.6,485.2 L929.1,485.2 L929.6,485.2 L930.1,485.2 L930.6,485.2 L931.1,485.2 L931.6,485.2 L932.1,485.2 L932.6,485.2 L933.1,485.2 L933.6,485.2 L934.1,485.2 L934.6,485.2 L935.1,485.2 L935.6,485.2 L936.1,485.2 L936.6,485.2 L937.1,485.2 L937.6,485.2 L938.1,485.2 L938.6,485.2 L939.1,485.2 L939.6,485.2 L940.1,485.2 L940.6,485.2 L941.1,485.3 L941.6,485.3 L942.1,485.3 L942.6,485.3 L943.1,485.3 L943.6,485.3 L944.1,485.3 L944.6,485.3 Z" fill="#dc90cc" fill-opacity="0.7" stroke="#8a4a78" stroke-opacity="0.7" stroke-width="0.7"/>
<path d="M806.0,485.5 L806.5,485.5 L807.0,485.5 L807.5,485.5 L808.0,485.5 L808.5,485.5 L809.0,485.5 L809.5,485.5 L810.0,485.4 L810.5,485.4 L811.0,485.4 L811.5,485.4 L812.0,485.4 L812.5,485.4 L813.0,485.4 L813.5,485.4 L814.0,485.4 L814.5,485.3 L815.0,485.3 L815.5,485.3 L816.0,485.3 L816.5,485.3 L817.0,485.3 L817.5,485.3 L818.0,485.2 L818.5,485.2 L819.0,485.2 L819.5,485.2 L820.0,485.2 L820.5,485.2 L821.0,485.2 L821.5,485.1 L822.0,485.1 L822.5,485.1 L823.0,485.1 L823.5,485.1 L824.0,485.1 L824.5,485.0 L825.0,485.0 L825.5,485.0 L826.0,485.0 L826.5,485.0 L827.0,485.0 L827.5,484.9 L828.0,484.9 L828.6,484.9 L829.1,484.9 L829.6,484.9 L830.1,484.8 L830.6,484.8 L831.1,484.8 L831.6,484.8 L832.1,484.8 L832.6,484.7 L833.1,484.7 L833.6,484.7 L834.1,484.7 L834.6,484.6 L835.1,484.6 L835.6,484.6 L836.1,484.6 L836.6,484.5 L837.1,484.5 L837.6,484.5 L838.1,484.4 L838.6,484.4 L839.1,484.4 L839.6,484.3 L840.1,484.3 L840.6,484.3 L841.1,484.2 L841.6,484.2 L842.1,484.2 L842.6,484.1 L843.1,484.1 L843.6,484.1 L844.1,484.0 L844.6,484.0 L845.1,483.9 L845.6,483.9 L846.1,483.8 L846.6,483.8 L847.1,483.8 L847.6,483.7 L848.1,483.7 L848.6,483.6 L849.1,483.6 L849.6,483.5 L850.1,483.4 L850.6,483.4 L851.1,483.3 L851.6,483.3 L852.1,483.2 L852.6,483.1 L853.1,483.1 L853.6,483.0 L854.1,482.9 L854.6,482.8 L855.1,482.8 L855.6,482.7 L856.1,482.6 L856.6,482.5 L857.1,482.4 L857.6,482.3 L858.1,482.2 L858.6,482.1 L859.1,482.0 L859.6,481.9 L860.1,481.7 L860.6,481.6 L861.1,481.4 L861.6,481.3 L862.1,481.1 L862.6,480.9 L863.1,480.7 L863.6,480.5 L864.1,480.3 L864.6,480.1 L865.1,479.8 L865.6,479.5 L866.1,479.2 L866.6,478.8 L867.1,478.5 L867.6,478.1 L868.1,477.6 L868.6,477.1 L869.1,476.6 L869.6,476.0 L870.1,475.3 L870.6,474.6 L871.1,473.9 L871.6,473.1 L872.1,472.2 L872.6,471.2 L873.2,470.1 L873.7,468.9 L874.2,467.7 L874.7,466.4 L875.2,464.9 L875.7,463.3 L876.2,461.7 L876.7,459.9 L877.2,458.0 L877.7,456.0 L878.2,453.8 L878.7,451.5 L879.2,449.1 L879.7,446.6 L880.2,444.0 L880.7,441.2 L881.2,438.3 L881.7,435.3 L882.2,432.2 L882.7,429.0 L883.2,425.6 L883.7,422.3 L884.2,418.8 L884.7,415.3 L885.2,411.7 L885.7,408.1 L886.2,404.5 L886.7,400.9 L887.2,397.4 L887.7,393.9 L888.2,390.4 L888.7,387.1 L889.2,384.0 L889.7,380.9 L890.2,378.1 L890.7,375.5 L891.2,373.2 L891.7,371.1 L892.2,369.3 L892.7,367.9 L893.2,366.8 L893.7,366.1 L894.2,365.7 L894.7,365.8 L895.2,366.2 L895.7,367.0 L896.2,368.1 L896.7,369.6 L897.2,371.4 L897.7,373.6 L898.2,376.0 L898.7,378.6 L899.2,381.5 L899.7,384.5 L900.2,387.7 L900.7,391.0 L901.2,394.5 L901.7,398.0 L902.2,401.5 L902.7,405.1 L903.2,408.7 L903.7,412.3 L904.2,415.9 L904.7,419.4 L905.2,422.8 L905.7,426.2 L906.2,429.5 L906.7,432.7 L907.2,435.8 L907.7,438.7 L908.2,441.6 L908.7,444.3 L909.2,447.0 L909.7,449.5 L910.2,451.8 L910.7,454.1 L911.2,456.2 L911.7,458.2 L912.2,460.1 L912.7,461.8 L913.2,463.5 L913.7,465.0 L914.2,466.4 L914.7,467.8 L915.2,469.0 L915.7,470.1 L916.2,471.2 L916.7,472.1 L917.2,473.0 L917.8,473.8 L918.3,474.6 L918.8,475.3 L919.3,475.9 L919.8,476.5 L920.3,477.0 L920.8,477.5 L921.3,477.9 L921.8,478.3 L922.3,478.7 L922.8,479.0 L923.3,479.3 L923.8,479.6 L924.3,479.8 L924.8,480.1 L925.3,480.3 L925.8,480.5 L926.3,480.7 L926.8,480.9 L927.3,481.0 L927.8,481.2 L928.3,481.3 L928.8,481.4 L929.3,481.6 L929.8,481.7 L930.3,481.8 L930.8,481.9 L931.3,482.0 L931.8,482.1 L932.3,482.2 L932.8,482.3 L933.3,482.3 L933.8,482.4 L934.3,482.5 L934.8,482.6 L935.3,482.6 L935.8,482.7 L936.3,482.8 L936.8,482.8 L937.3,482.9 L937.8,482.9 L938.3,483.0 L938.8,483.0 L939.3,483.1 L939.8,483.1 L940.3,483.2 L940.8,483.2 L941.3,483.3 L941.8,483.3 L942.3,483.4 L942.8,483.4 L943.3,483.5 L943.8,483.5 L944.3,483.5 L944.8,483.6 L945.3,483.6 L945.8,483.6 L946.3,483.7 L946.8,483.7 L947.3,483.7 L947.8,483.8 L948.3,483.8 L948.8,483.8 L949.3,483.8 L949.8,483.9 L950.3,483.9 L950.8,483.9 L951.3,483.9 L951.8,484.0 L952.3,484.0 L952.8,484.0 L953.3,484.0 L953.8,484.1 L954.3,484.1 L954.8,484.1 L955.3,484.1 L955.8,484.1 L956.3,484.2 L956.8,484.2 L957.3,484.2 L957.8,484.2 L958.3,484.2 L958.8,484.3 L959.3,484.3 L959.8,484.3 L960.3,484.3 L960.8,484.3 L961.3,484.3 L961.8,484.3 L962.4,484.4 L962.9,484.4 L963.4,484.4 L963.9,484.4 L964.4,484.4 L964.9,484.4 L965.4,484.4 L965.9,484.4 L966.4,484.5 L966.9,484.5 L967.4,484.5 L967.9,484.5 L968.4,484.5 L968.9,484.5 L969.4,484.5 L969.9,484.5 L970.4,484.5 L970.9,484.5 L971.4,484.6 L971.9,484.6 L972.4,484.6 L972.9,484.6 L973.4,484.6 L973.9,484.6 L974.4,484.6 L974.9,484.6 L975.4,484.6 L975.9,484.6 L976.4,484.6 L976.9,484.6 L977.4,484.7 L977.9,484.7 L978.4,484.7 L978.9,484.7 L979.4,484.7 L979.9,484.7 L980.4,484.7 L980.9,484.7 L981.4,484.7 L981.9,484.7 L982.4,484.7 L982.9,484.7 L983.4,484.7 L983.9,484.7 L984.4,484.7 Z" fill="#dc90cc" fill-opacity="0.7" stroke="#8a4a78" stroke-opacity="0.7" stroke-width="0.7"/>
<path d="M924.7,485.5 L925.2,485.5 L925.7,485.5 L926.2,485.5 L926.7,485.5 L927.2,485.4 L927.7,485.4 L928.2,485.4 L928.7,485.4 L929.2,485.4 L929.7,485.4 L930.2,485.4 L930.7,485.4 L931.2,485.4 L931.7,485.4 L932.2,485.4 L932.7,485.4 L933.2,485.3 L933.7,485.3 L934.2,485.3 L934.7,485.3 L935.2,485.3 L935.7,485.3 L936.2,485.3 L936.7,485.3 L937.2,485.3 L937.7,485.2 L938.2,485.2 L938.7,485.2 L939.2,485.2 L939.7,485.2 L940.2,485.2 L940.7,485.1 L941.2,485.1 L941.7,485.1 L942.2,485.1 L942.7,485.1 L943.2,485.0 L943.7,485.0 L944.2,485.0 L944.7,485.0 L945.2,484.9 L945.7,484.9 L946.2,484.9 L946.7,484.8 L947.2,484.8 L947.7,484.8 L948.2,484.7 L948.7,484.7 L949.2,484.6 L949.7,484.6 L950.2,484.5 L950.7,484.4 L951.2,484.3 L951.7,484.2 L952.2,484.1 L952.7,484.0 L953.2,483.9 L953.7,483.7 L954.2,483.4 L954.7,483.2 L955.2,482.9 L955.7,482.5 L956.2,482.0 L956.7,481.4 L957.2,480.8 L957.7,480.0 L958.2,479.1 L958.7,478.0 L959.2,476.8 L959.7,475.5 L960.2,474.0 L960.7,472.4 L961.2,470.6 L961.7,468.7 L962.2,466.7 L962.7,464.7 L963.2,462.7 L963.7,460.7 L964.2,458.9 L964.7,457.2 L965.2,455.8 L965.7,454.7 L966.2,454.0 L966.7,453.8 L967.2,454.0 L967.7,454.7 L968.2,455.8 L968.7,457.2 L969.2,458.8 L969.7,460.7 L970.2,462.6 L970.7,464.7 L971.2,466.7 L971.7,468.7 L972.2,470.5 L972.7,472.3 L973.2,473.9 L973.7,475.4 L974.2,476.8 L974.7,478.0 L975.2,479.0 L975.7,479.9 L976.2,480.7 L976.7,481.4 L977.2,481.9 L977.7,482.4 L978.2,482.8 L978.7,483.1 L979.2,483.3 L979.7,483.6 L980.2,483.7 L980.7,483.9 L981.2,484.0 L981.7,484.1 L982.2,484.2 L982.7,484.3 L983.2,484.3 L983.7,484.4 L984.2,484.5 L984.7,484.5 L985.2,484.5 L985.7,484.6 L986.2,484.6 L986.7,484.7 L987.2,484.7 L987.7,484.7 L988.2,484.7 L988.7,484.8 L989.2,484.8 L989.7,484.8 L990.2,484.8 L990.7,484.8 L991.2,484.9 L991.7,484.9 L992.2,484.9 L992.7,484.9 L993.2,484.9 L993.7,484.9 L994.2,484.9 L994.7,485.0 L995.2,485.0 L995.7,485.0 L996.2,485.0 L996.7,485.0 L997.2,485.0 L997.7,485.0 L998.2,485.0 L998.7,485.0 L999.2,485.0 L999.7,485.0 L1000.2,485.0 L1000.7,485.0 L1001.2,485.0 L1001.7,485.1 L1002.2,485.1 L1002.7,485.1 L1003.2,485.1 L1003.7,485.1 L1004.2,485.1 L1004.7,485.1 L1005.2,485.1 L1005.7,485.1 L1006.2,485.1 L1006.7,485.1 L1007.2,485.1 L1007.7,485.1 L1008.2,485.1 L1008.7,485.1 Z" fill="#8c86c8" fill-opacity="0.7" stroke="#4a4480" stroke-opacity="0.7" stroke-width="0.7"/>
<path d="M935.9,485.3 L936.4,485.2 L936.9,485.2 L937.4,485.2 L937.9,485.2 L938.4,485.2 L938.9,485.2 L939.4,485.2 L939.9,485.2 L940.4,485.2 L940.9,485.2 L941.4,485.1 L941.9,485.1 L942.4,485.1 L942.9,485.1 L943.4,485.1 L943.9,485.1 L944.4,485.1 L944.9,485.1 L945.4,485.0 L945.9,485.0 L946.4,485.0 L946.9,485.0 L947.4,485.0 L947.9,485.0 L948.4,484.9 L948.9,484.9 L949.4,484.9 L949.9,484.9 L950.4,484.9 L950.9,484.8 L951.4,484.8 L951.9,484.8 L952.4,484.8 L952.9,484.7 L953.4,484.7 L953.9,484.7 L954.4,484.7 L954.9,484.6 L955.4,484.6 L955.9,484.6 L956.4,484.5 L956.9,484.5 L957.4,484.5 L957.9,484.4 L958.4,484.4 L958.9,484.4 L959.4,484.3 L959.9,484.3 L960.4,484.2 L960.9,484.2 L961.4,484.1 L961.9,484.1 L962.4,484.0 L962.9,483.9 L963.4,483.9 L963.9,483.8 L964.4,483.7 L964.9,483.6 L965.4,483.5 L965.9,483.4 L966.4,483.3 L966.9,483.2 L967.4,483.1 L967.9,482.9 L968.4,482.7 L968.9,482.5 L969.4,482.3 L969.9,482.0 L970.4,481.7 L970.9,481.4 L971.4,480.9 L971.9,480.4 L972.4,479.9 L972.9,479.2 L973.4,478.4 L973.9,477.4 L974.4,476.4 L974.9,475.1 L975.4,473.7 L975.9,472.1 L976.4,470.3 L976.9,468.3 L977.4,466.0 L977.9,463.6 L978.4,460.9 L978.9,458.1 L979.4,455.0 L979.9,451.8 L980.4,448.5 L980.9,445.1 L981.4,441.7 L981.9,438.3 L982.4,435.0 L982.9,431.8 L983.4,429.0 L983.9,426.4 L984.4,424.3 L984.9,422.8 L985.4,421.8 L985.9,421.5 L986.4,421.8 L986.9,422.8 L987.4,424.3 L987.9,426.4 L988.4,428.9 L988.9,431.8 L989.4,434.9 L989.9,438.2 L990.4,441.6 L990.9,445.1 L991.4,448.5 L991.9,451.8 L992.4,455.0 L992.9,458.0 L993.4,460.9 L993.9,463.5 L994.4,466.0 L994.9,468.2 L995.4,470.2 L995.9,472.0 L996.4,473.6 L996.9,475.0 L997.4,476.2 L997.9,477.3 L998.4,478.2 L998.9,479.0 L999.4,479.7 L999.9,480.3 L1000.4,480.8 L1000.9,481.2 L1001.4,481.6 L1001.9,481.9 L1002.4,482.2 L1002.9,482.4 L1003.4,482.6 L1003.9,482.7 L1004.4,482.9 L1004.9,483.0 L1005.4,483.1 L1005.9,483.3 L1006.4,483.4 L1006.9,483.4 L1007.4,483.5 L1007.9,483.6 L1008.4,483.7 L1008.9,483.7 L1009.4,483.8 L1009.9,483.8 L1010.4,483.9 L1010.9,483.9 L1011.4,484.0 L1011.9,484.0 L1012.4,484.1 L1012.9,484.1 L1013.4,484.1 L1013.9,484.2 L1014.4,484.2 L1014.9,484.2 L1015.4,484.3 L1015.9,484.3 L1016.4,484.3 L1016.9,484.4 L1017.4,484.4 L1017.9,484.4 L1018.4,484.4 L1018.9,484.4 L1019.4,484.5 L1019.9,484.5 L1020.4,484.5 L1020.9,484.5 L1021.4,484.5 L1021.9,484.6 L1022.4,484.6 L1022.9,484.6 L1023.4,484.6 L1023.9,484.6 L1024.4,484.6 L1024.9,484.6 L1025.4,484.6 L1025.9,484.7 L1026.4,484.7 L1026.9,484.7 L1027.4,484.7 L1027.9,484.7 L1028.4,484.7 L1028.9,484.7 L1029.4,484.7 L1029.9,484.7 L1030.4,484.7 L1030.9,484.7 L1031.4,484.7 L1031.9,484.8 L1032.4,484.8 L1032.9,484.8 L1033.4,484.8 L1033.9,484.8 L1034.4,484.8 L1034.9,484.8 L1035.4,484.8 L1035.9,484.8 Z" fill="#8c86c8" fill-opacity="0.7" stroke="#4a4480" stroke-opacity="0.7" stroke-width="0.7"/>
<path d="M937.4,485.4 L937.9,485.4 L938.4,485.3 L938.9,485.3 L939.4,485.3 L939.9,485.3 L940.4,485.3 L940.9,485.3 L941.4,485.3 L941.9,485.3 L942.4,485.3 L942.9,485.3 L943.4,485.3 L943.9,485.3 L944.4,485.3 L944.9,485.3 L945.4,485.3 L945.9,485.2 L946.4,485.2 L946.9,485.2 L947.4,485.2 L947.9,485.2 L948.4,485.2 L948.9,485.2 L949.4,485.2 L949.9,485.2 L950.4,485.2 L950.9,485.2 L951.4,485.2 L951.9,485.1 L952.4,485.1 L952.9,485.1 L953.4,485.1 L953.9,485.1 L954.4,485.1 L954.9,485.1 L955.4,485.1 L955.9,485.1 L956.4,485.0 L956.9,485.0 L957.4,485.0 L957.9,485.0 L958.4,485.0 L958.9,485.0 L959.4,485.0 L959.9,485.0 L960.4,484.9 L960.9,484.9 L961.4,484.9 L961.9,484.9 L962.4,484.9 L962.9,484.9 L963.4,484.8 L963.9,484.8 L964.4,484.8 L964.9,484.8 L965.4,484.8 L965.9,484.8 L966.4,484.7 L966.9,484.7 L967.4,484.7 L967.9,484.7 L968.4,484.6 L968.9,484.6 L969.4,484.6 L969.9,484.6 L970.4,484.5 L970.9,484.5 L971.4,484.5 L971.9,484.4 L972.4,484.4 L972.9,484.4 L973.4,484.3 L973.9,484.3 L974.4,484.3 L974.9,484.2 L975.4,484.2 L975.9,484.1 L976.4,484.1 L976.9,484.0 L977.4,484.0 L977.9,483.9 L978.4,483.8 L978.9,483.8 L979.4,483.7 L979.9,483.6 L980.4,483.5 L980.9,483.4 L981.4,483.3 L981.9,483.2 L982.4,483.0 L982.9,482.8 L983.4,482.7 L983.9,482.5 L984.4,482.2 L984.9,481.9 L985.4,481.6 L985.9,481.3 L986.4,480.9 L986.9,480.5 L987.4,480.0 L987.9,479.5 L988.4,478.9 L988.9,478.2 L989.4,477.5 L989.9,476.7 L990.4,475.8 L990.9,474.8 L991.4,473.8 L991.9,472.7 L992.4,471.4 L992.9,470.1 L993.4,468.8 L993.9,467.3 L994.4,465.8 L994.9,464.2 L995.4,462.5 L995.9,460.8 L996.4,459.0 L996.9,457.3 L997.4,455.5 L997.9,453.7 L998.4,451.9 L998.9,450.3 L999.4,448.6 L999.9,447.1 L1000.4,445.8 L1000.9,444.5 L1001.5,443.5 L1002.0,442.7 L1002.5,442.1 L1003.0,441.7 L1003.5,441.6 L1004.0,441.8 L1004.5,442.2 L1005.0,442.8 L1005.5,443.7 L1006.0,444.7 L1006.5,446.0 L1007.0,447.4 L1007.5,448.9 L1008.0,450.6 L1008.5,452.3 L1009.0,454.0 L1009.5,455.8 L1010.0,457.6 L1010.5,459.3 L1011.0,461.1 L1011.5,462.8 L1012.0,464.4 L1012.5,466.0 L1013.0,467.5 L1013.5,469.0 L1014.0,470.3 L1014.5,471.6 L1015.0,472.8 L1015.5,473.9 L1016.0,474.9 L1016.5,475.9 L1017.0,476.7 L1017.5,477.5 L1018.0,478.2 L1018.5,478.9 L1019.0,479.5 L1019.5,480.0 L1020.0,480.4 L1020.5,480.9 L1021.0,481.2 L1021.5,481.5 L1022.0,481.8 L1022.5,482.1 L1023.0,482.3 L1023.5,482.5 L1024.0,482.7 L1024.5,482.9 L1025.0,483.0 L1025.5,483.1 L1026.0,483.2 L1026.5,483.3 L1027.0,483.4 L1027.5,483.5 L1028.0,483.6 L1028.5,483.6 L1029.0,483.7 L1029.5,483.8 L1030.0,483.8 L1030.5,483.8 L1031.0,483.9 L1031.5,483.9 L1032.0,484.0 L1032.5,484.0 L1033.0,484.0 L1033.5,484.1 L1034.0,484.1 L1034.5,484.1 L1035.0,484.2 L1035.5,484.2 L1036.0,484.2 L1036.5,484.2 L1037.0,484.3 L1037.5,484.3 L1038.0,484.3 L1038.5,484.3 L1039.0,484.3 L1039.5,484.4 L1040.0,484.4 L1040.5,484.4 L1041.0,484.4 L1041.5,484.4 L1042.0,484.4 L1042.5,484.5 L1043.0,484.5 L1043.5,484.5 L1044.0,484.5 L1044.5,484.5 L1045.0,484.5 L1045.5,484.5 L1046.0,484.5 L1046.5,484.6 L1047.0,484.6 L1047.5,484.6 L1048.0,484.6 L1048.5,484.6 L1049.0,484.6 L1049.5,484.6 L1050.0,484.6 L1050.5,484.6 L1051.0,484.6 L1051.5,484.6 L1052.0,484.6 L1052.5,484.6 L1053.0,484.7 L1053.5,484.7 L1054.0,484.7 L1054.5,484.7 L1055.0,484.7 L1055.5,484.7 L1056.0,484.7 L1056.5,484.7 L1057.0,484.7 L1057.5,484.7 L1058.0,484.7 L1058.5,484.7 L1059.0,484.7 L1059.5,484.7 L1060.0,484.7 L1060.5,484.7 L1061.0,484.7 L1061.5,484.7 L1062.0,484.7 L1062.5,484.7 L1063.0,484.7 L1063.5,484.7 L1064.0,484.7 L1064.5,484.7 L1065.0,484.7 L1065.5,484.7 Z" fill="#8c86c8" fill-opacity="0.7" stroke="#4a4480" stroke-opacity="0.7" stroke-width="0.7"/>
<path d="M944.4,485.1 L944.9,485.1 L945.4,485.1 L945.9,485.1 L946.4,485.1 L946.9,485.1 L947.4,485.1 L947.9,485.0 L948.4,485.0 L948.9,485.0 L949.4,485.0 L949.9,485.0 L950.4,485.0 L950.9,485.0 L951.4,485.0 L951.9,485.0 L952.4,485.0 L952.9,484.9 L953.4,484.9 L953.9,484.9 L954.4,484.9 L954.9,484.9 L955.4,484.9 L955.9,484.9 L956.4,484.9 L956.9,484.9 L957.4,484.8 L957.9,484.8 L958.4,484.8 L958.9,484.8 L959.4,484.8 L959.9,484.8 L960.4,484.8 L960.9,484.7 L961.4,484.7 L961.9,484.7 L962.4,484.7 L962.9,484.7 L963.4,484.7 L963.9,484.7 L964.4,484.6 L964.9,484.6 L965.4,484.6 L965.9,484.6 L966.4,484.6 L966.9,484.5 L967.4,484.5 L967.9,484.5 L968.4,484.5 L968.9,484.5 L969.4,484.4 L969.9,484.4 L970.4,484.4 L970.9,484.4 L971.4,484.4 L971.9,484.3 L972.4,484.3 L972.9,484.3 L973.4,484.3 L973.9,484.2 L974.4,484.2 L974.9,484.2 L975.4,484.1 L975.9,484.1 L976.4,484.1 L976.9,484.1 L977.4,484.0 L977.9,484.0 L978.4,484.0 L978.9,483.9 L979.4,483.9 L979.9,483.8 L980.4,483.8 L980.9,483.8 L981.4,483.7 L981.9,483.7 L982.4,483.6 L982.9,483.6 L983.4,483.5 L983.9,483.5 L984.4,483.4 L984.9,483.4 L985.4,483.3 L985.9,483.3 L986.4,483.2 L986.9,483.1 L987.4,483.1 L987.9,483.0 L988.4,482.9 L988.9,482.8 L989.4,482.8 L989.9,482.7 L990.4,482.6 L990.9,482.5 L991.4,482.4 L991.9,482.2 L992.4,482.1 L992.9,482.0 L993.4,481.8 L993.9,481.7 L994.4,481.5 L994.9,481.3 L995.4,481.1 L995.9,480.9 L996.4,480.6 L996.9,480.3 L997.4,480.0 L997.9,479.6 L998.4,479.2 L998.9,478.8 L999.4,478.3 L999.9,477.8 L1000.4,477.2 L1000.9,476.5 L1001.4,475.8 L1001.9,475.0 L1002.4,474.1 L1002.9,473.1 L1003.4,472.1 L1003.9,470.9 L1004.4,469.6 L1005.0,468.3 L1005.5,466.8 L1006.0,465.2 L1006.5,463.4 L1007.0,461.6 L1007.5,459.6 L1008.0,457.5 L1008.5,455.2 L1009.0,452.9 L1009.5,450.4 L1010.0,447.8 L1010.5,445.2 L1011.0,442.4 L1011.5,439.5 L1012.0,436.6 L1012.5,433.6 L1013.0,430.6 L1013.5,427.6 L1014.0,424.6 L1014.5,421.6 L1015.0,418.7 L1015.5,415.9 L1016.0,413.2 L1016.5,410.7 L1017.0,408.4 L1017.5,406.3 L1018.0,404.4 L1018.5,402.9 L1019.0,401.6 L1019.5,400.8 L1020.0,400.2 L1020.5,400.1 L1021.0,400.3 L1021.5,400.9 L1022.0,401.9 L1022.5,403.2 L1023.0,404.8 L1023.5,406.7 L1024.0,408.9 L1024.5,411.3 L1025.0,413.9 L1025.5,416.6 L1026.0,419.4 L1026.5,422.3 L1027.0,425.3 L1027.5,428.3 L1028.0,431.3 L1028.5,434.3 L1029.0,437.3 L1029.5,440.2 L1030.0,443.0 L1030.5,445.8 L1031.0,448.4 L1031.5,451.0 L1032.0,453.4 L1032.5,455.7 L1033.0,457.9 L1033.5,460.0 L1034.0,461.9 L1034.5,463.7 L1035.0,465.4 L1035.5,467.0 L1036.0,468.5 L1036.5,469.8 L1037.0,471.1 L1037.5,472.2 L1038.0,473.2 L1038.5,474.2 L1039.0,475.0 L1039.5,475.8 L1040.0,476.5 L1040.5,477.2 L1041.0,477.7 L1041.5,478.3 L1042.0,478.7 L1042.5,479.1 L1043.0,479.5 L1043.5,479.9 L1044.0,480.2 L1044.5,480.4 L1045.0,480.7 L1045.5,480.9 L1046.0,481.1 L1046.5,481.3 L1047.0,481.5 L1047.5,481.6 L1048.0,481.8 L1048.5,481.9 L1049.0,482.0 L1049.5,482.1 L1050.0,482.2 L1050.5,482.3 L1051.0,482.4 L1051.5,482.5 L1052.0,482.6 L1052.5,482.6 L1053.0,482.7 L1053.5,482.8 L1054.0,482.8 L1054.5,482.9 L1055.0,483.0 L1055.5,483.0 L1056.0,483.1 L1056.5,483.1 L1057.0,483.2 L1057.5,483.2 L1058.0,483.2 L1058.5,483.3 L1059.0,483.3 L1059.5,483.4 L1060.0,483.4 L1060.5,483.4 L1061.0,483.5 L1061.5,483.5 L1062.0,483.5 L1062.5,483.6 L1063.0,483.6 L1063.5,483.6 L1064.0,483.7 L1064.5,483.7 L1065.0,483.7 L1065.5,483.7 Z" fill="#8c86c8" fill-opacity="0.7" stroke="#4a4480" stroke-opacity="0.7" stroke-width="0.7"/>
<line x1="806" y1="486.5" x2="1065.5" y2="484.7" stroke="#d070b0" stroke-width="1.3"/>
<path d="M812.0,485.5 C812.9,485.2 814.0,486.2 817.3,483.8 C820.6,481.4 826.9,481.6 831.8,471.0 C836.6,460.4 840.9,436.4 846.4,420.0 C851.9,403.6 859.8,386.7 864.6,372.8 C869.5,358.9 871.7,345.8 875.5,336.4 C879.3,327.0 883.6,316.4 887.2,316.4 C890.9,316.4 894.2,324.0 897.4,336.4 C900.6,348.8 902.9,377.1 906.5,391.0 C910.1,404.9 915.9,414.8 919.2,420.0 C922.5,425.2 923.5,416.5 926.5,422.0 C929.5,427.5 933.5,443.2 937.4,452.9 C941.3,462.6 947.1,475.2 950.0,480.2 C952.9,485.2 953.2,484.7 955.0,483.0 C956.8,481.3 959.0,475.0 961.0,470.0 C963.0,465.0 964.4,453.6 966.7,453.2 C969.0,452.8 972.6,469.6 975.0,467.4 C977.4,465.2 979.0,448.0 981.0,440.0 C983.0,432.0 984.5,418.6 987.0,419.3 C989.5,420.1 992.6,443.1 995.7,444.5 C998.8,445.9 1002.8,434.1 1005.5,428.0 C1008.2,421.9 1009.8,413.6 1012.0,408.0 C1014.2,402.4 1016.4,391.6 1019.0,394.2 C1021.6,396.8 1024.9,412.2 1027.4,423.7 C1029.9,435.2 1031.5,453.2 1034.0,463.0 C1036.5,472.8 1039.2,478.9 1042.7,482.7 C1046.2,486.4 1053.0,485.0 1055.0,485.5" fill="none" stroke="#1a1a1a" stroke-width="1.1"/>
<circle cx="924.1" cy="400.2" r="0.7" fill="#777"/>
<circle cx="927.3" cy="416.0" r="0.7" fill="#777"/>
<circle cx="937.7" cy="448.0" r="0.7" fill="#777"/>
<circle cx="938.7" cy="452.3" r="0.7" fill="#777"/>
<circle cx="967.6" cy="456.0" r="0.7" fill="#777"/>
<circle cx="887.5" cy="312.7" r="0.7" fill="#777"/>
<circle cx="835.3" cy="464.5" r="0.7" fill="#777"/>
<circle cx="823.3" cy="464.2" r="0.7" fill="#777"/>
<circle cx="1054.1" cy="488.0" r="0.7" fill="#777"/>
<circle cx="964.1" cy="457.6" r="0.7" fill="#777"/>
<circle cx="851.7" cy="418.6" r="0.7" fill="#777"/>
<circle cx="827.6" cy="475.8" r="0.7" fill="#777"/>
<circle cx="859.7" cy="385.6" r="0.7" fill="#777"/>
<circle cx="926.9" cy="425.6" r="0.7" fill="#777"/>
<circle cx="921.2" cy="427.2" r="0.7" fill="#777"/>
<circle cx="970.2" cy="449.1" r="0.7" fill="#777"/>
<circle cx="935.7" cy="442.3" r="0.7" fill="#777"/>
<circle cx="881.3" cy="317.1" r="0.7" fill="#777"/>
<circle cx="1057.9" cy="488.0" r="0.7" fill="#777"/>
<circle cx="986.8" cy="419.6" r="0.7" fill="#777"/>
<circle cx="890.4" cy="323.7" r="0.7" fill="#777"/>
<circle cx="830.2" cy="480.6" r="0.7" fill="#777"/>
<circle cx="1001.1" cy="419.7" r="0.7" fill="#777"/>
<circle cx="907.9" cy="405.5" r="0.7" fill="#777"/>
<circle cx="1048.2" cy="484.1" r="0.7" fill="#777"/>
<circle cx="864.5" cy="372.8" r="0.7" fill="#777"/>
<circle cx="1036.5" cy="441.1" r="0.7" fill="#777"/>
<circle cx="910.6" cy="405.5" r="0.7" fill="#777"/>
<circle cx="830.9" cy="459.8" r="0.7" fill="#777"/>
<circle cx="879.2" cy="317.4" r="0.7" fill="#777"/>
<circle cx="834.4" cy="449.1" r="0.7" fill="#777"/>
<circle cx="999.1" cy="461.2" r="0.7" fill="#777"/>
<circle cx="842.0" cy="435.6" r="0.7" fill="#777"/>
<circle cx="827.7" cy="479.2" r="0.7" fill="#777"/>
<circle cx="1008.7" cy="423.9" r="0.7" fill="#777"/>
<circle cx="922.8" cy="432.5" r="0.7" fill="#777"/>
<circle cx="859.8" cy="384.6" r="0.7" fill="#777"/>
<circle cx="971.0" cy="455.3" r="0.7" fill="#777"/>
<circle cx="841.6" cy="430.7" r="0.7" fill="#777"/>
<circle cx="879.2" cy="333.3" r="0.7" fill="#777"/>
<circle cx="1051.4" cy="487.5" r="0.7" fill="#777"/>
<circle cx="1030.2" cy="432.5" r="0.7" fill="#777"/>
<circle cx="864.7" cy="356.9" r="0.7" fill="#777"/>
<circle cx="970.6" cy="471.9" r="0.7" fill="#777"/>
<circle cx="837.6" cy="457.5" r="0.7" fill="#777"/>
<circle cx="876.4" cy="334.4" r="0.7" fill="#777"/>
<circle cx="1002.7" cy="428.7" r="0.7" fill="#777"/>
<circle cx="831.0" cy="479.1" r="0.7" fill="#777"/>
<circle cx="835.1" cy="452.9" r="0.7" fill="#777"/>
<circle cx="960.6" cy="467.1" r="0.7" fill="#777"/>
<circle cx="904.3" cy="353.3" r="0.7" fill="#777"/>
<circle cx="931.8" cy="444.2" r="0.7" fill="#777"/>
<circle cx="954.1" cy="486.7" r="0.7" fill="#777"/>
<circle cx="850.8" cy="403.8" r="0.7" fill="#777"/>
<circle cx="1036.0" cy="470.7" r="0.7" fill="#777"/>
<circle cx="859.6" cy="378.9" r="0.7" fill="#777"/>
<circle cx="994.5" cy="447.3" r="0.7" fill="#777"/>
<circle cx="1046.3" cy="481.1" r="0.7" fill="#777"/>
<circle cx="1029.6" cy="428.3" r="0.7" fill="#777"/>
<circle cx="838.5" cy="441.3" r="0.7" fill="#777"/>
<circle cx="822.5" cy="486.4" r="0.7" fill="#777"/>
<circle cx="986.0" cy="421.1" r="0.7" fill="#777"/>
<circle cx="876.1" cy="341.4" r="0.7" fill="#777"/>
<circle cx="885.0" cy="308.0" r="0.7" fill="#777"/>
<circle cx="856.1" cy="394.2" r="0.7" fill="#777"/>
<circle cx="869.1" cy="354.2" r="0.7" fill="#777"/>
<circle cx="950.3" cy="488.0" r="0.7" fill="#777"/>
<circle cx="881.8" cy="314.6" r="0.7" fill="#777"/>
<circle cx="1038.2" cy="473.1" r="0.7" fill="#777"/>
<circle cx="879.1" cy="332.0" r="0.7" fill="#777"/>
<circle cx="922.4" cy="426.7" r="0.7" fill="#777"/>
<circle cx="903.5" cy="375.5" r="0.7" fill="#777"/>
<circle cx="953.5" cy="488.0" r="0.7" fill="#777"/>
<circle cx="1031.7" cy="456.4" r="0.7" fill="#777"/>
<circle cx="1053.7" cy="476.7" r="0.7" fill="#777"/>
<line x1="805" y1="501" x2="1066.5" y2="501" stroke="#111" stroke-width="4"/>
<line x1="805.0" y1="501" x2="805.0" y2="494" stroke="#111" stroke-width="2"/>
<line x1="831.1" y1="500.5" x2="831.1" y2="496.5" stroke="#111" stroke-width="1.6"/>
<line x1="857.3" y1="501" x2="857.3" y2="494" stroke="#111" stroke-width="2"/>
<line x1="883.4" y1="500.5" x2="883.4" y2="496.5" stroke="#111" stroke-width="1.6"/>
<line x1="909.6" y1="501" x2="909.6" y2="494" stroke="#111" stroke-width="2"/>
<line x1="935.8" y1="500.5" x2="935.8" y2="496.5" stroke="#111" stroke-width="1.6"/>
<line x1="961.9" y1="501" x2="961.9" y2="494" stroke="#111" stroke-width="2"/>
<line x1="988.0" y1="500.5" x2="988.0" y2="496.5" stroke="#111" stroke-width="1.6"/>
<line x1="1014.2" y1="501" x2="1014.2" y2="494" stroke="#111" stroke-width="2"/>
<line x1="1040.4" y1="500.5" x2="1040.4" y2="496.5" stroke="#111" stroke-width="1.6"/>
<line x1="1066.5" y1="501" x2="1066.5" y2="494" stroke="#111" stroke-width="2"/>
<text x="804.5" y="521.0" font-size="15" font-weight="normal" fill="#111" text-anchor="middle" textLength="24" lengthAdjust="spacingAndGlyphs" >172</text>
<text x="857.0" y="521.0" font-size="15" font-weight="normal" fill="#111" text-anchor="middle" textLength="24" lengthAdjust="spacingAndGlyphs" >170</text>
<text x="909.4" y="521.0" font-size="15" font-weight="normal" fill="#111" text-anchor="middle" textLength="24" lengthAdjust="spacingAndGlyphs" >168</text>
<text x="961.9" y="521.0" font-size="15" font-weight="normal" fill="#111" text-anchor="middle" textLength="24" lengthAdjust="spacingAndGlyphs" >166</text>
<text x="1014.3" y="521.0" font-size="15" font-weight="normal" fill="#111" text-anchor="middle" textLength="24" lengthAdjust="spacingAndGlyphs" >164</text>
<text x="1066.8" y="521.0" font-size="15" font-weight="normal" fill="#111" text-anchor="middle" textLength="24" lengthAdjust="spacingAndGlyphs" >162</text>
<text x="928.0" y="544.0" font-size="15.5" font-weight="normal" fill="#111" text-anchor="middle" textLength="134" lengthAdjust="spacingAndGlyphs" stroke="#111" stroke-width="0.3">Binding energy (eV)</text>
<text x="0" y="0" font-size="14.5" fill="#111" stroke="#111" stroke-width="0.3" text-anchor="middle" transform="translate(782.5,396) rotate(-90)" textLength="102" lengthAdjust="spacingAndGlyphs">Intensity (a.u.)</text>
<text x="810.0" y="301.0" font-size="15" font-weight="normal" fill="#111" text-anchor="start" textLength="34.5" lengthAdjust="spacingAndGlyphs" stroke="#111" stroke-width="0.3">S 2p</text>
<rect x="937.4" y="299" width="20.3" height="6" fill="#9a96d0"/>
<text x="968.3" y="307.5" font-size="14.5" font-weight="normal" fill="#111" text-anchor="start" textLength="72.6" lengthAdjust="spacingAndGlyphs" >Polysulfide</text>
<rect x="937.4" y="320" width="20.3" height="6" fill="#b0d8a8"/>
<text x="968.3" y="328.5" font-size="14.5" font-weight="normal" fill="#111" text-anchor="start" textLength="75.2" lengthAdjust="spacingAndGlyphs" >Thiosulfate</text>
<rect x="937.4" y="338" width="20.3" height="6" fill="#d8a0c8"/>
<text x="968.3" y="346.5" font-size="14.5" font-weight="normal" fill="#111" text-anchor="start" textLength="83.7" lengthAdjust="spacingAndGlyphs" >Polythionate</text>
<path d="M794.7,491.0 L790.9,498.6 M791.9,496.7 L801.4,496.7 M789.0,504.3 L802.3,504.3 M795.6,496.7 L795.6,505.2 L790.0,516.6 M796.6,508.1 L802.3,514.8 M805.1,498.6 L805.1,513.8 L816.5,513.8 L816.5,498.6 L805.1,498.6" fill="none" stroke="#c4c4c4" stroke-width="3.4" stroke-linecap="butt" stroke-linejoin="miter" opacity="0.9"/>
<path d="M794.7,491.0 L790.9,498.6 M791.9,496.7 L801.4,496.7 M789.0,504.3 L802.3,504.3 M795.6,496.7 L795.6,505.2 L790.0,516.6 M796.6,508.1 L802.3,514.8 M805.1,498.6 L805.1,513.8 L816.5,513.8 L816.5,498.6 L805.1,498.6" fill="none" stroke="#fff" stroke-width="1.9" stroke-linecap="butt" stroke-linejoin="miter"/>
<path d="M844.5,491.5 L825.9,495.4 M828.8,498.3 L830.8,502.3 M844.5,498.3 L841.6,502.3 M822.0,506.2 L850.4,506.2 M836.7,495.4 L836.7,517.0 L831.8,515.0" fill="none" stroke="#c4c4c4" stroke-width="3.4" stroke-linecap="butt" stroke-linejoin="miter" opacity="0.9"/>
<path d="M844.5,491.5 L825.9,495.4 M828.8,498.3 L830.8,502.3 M844.5,498.3 L841.6,502.3 M822.0,506.2 L850.4,506.2 M836.7,495.4 L836.7,517.0 L831.8,515.0" fill="none" stroke="#fff" stroke-width="1.9" stroke-linecap="butt" stroke-linejoin="miter"/>
<path d="M999.5,493.0 L1002.5,497.0 M1007.5,492.0 L1008.5,496.0 M1017.5,492.0 L1014.5,497.0 M995.5,503.0 L995.5,499.0 L1021.5,499.0 L1021.5,503.0 M1001.5,504.0 L1015.5,504.0 L1008.5,509.0 M1008.5,509.0 L1008.5,519.0 L1004.5,517.0 M994.5,512.0 L1022.5,512.0" fill="none" stroke="#c4c4c4" stroke-width="3.4" stroke-linecap="butt" stroke-linejoin="miter" opacity="0.9"/>
<path d="M999.5,493.0 L1002.5,497.0 M1007.5,492.0 L1008.5,496.0 M1017.5,492.0 L1014.5,497.0 M995.5,503.0 L995.5,499.0 L1021.5,499.0 L1021.5,503.0 M1001.5,504.0 L1015.5,504.0 L1008.5,509.0 M1008.5,509.0 L1008.5,519.0 L1004.5,517.0 M994.5,512.0 L1022.5,512.0" fill="none" stroke="#fff" stroke-width="1.9" stroke-linecap="butt" stroke-linejoin="miter"/>
<path d="M1029.6,492.9 L1031.5,495.8 M1036.2,492.0 L1036.2,495.8 M1043.8,492.9 L1041.0,495.8 M1023.9,500.6 L1023.9,497.7 L1048.6,497.7 L1048.6,500.6 M1031.5,500.6 L1031.5,505.3 L1041.0,505.3 L1041.0,500.6 L1031.5,500.6 M1027.7,510.1 L1044.8,510.1 M1036.2,506.2 L1036.2,517.6 M1023.0,517.6 L1049.5,517.6" fill="none" stroke="#c4c4c4" stroke-width="3.4" stroke-linecap="butt" stroke-linejoin="miter" opacity="0.9"/>
<path d="M1029.6,492.9 L1031.5,495.8 M1036.2,492.0 L1036.2,495.8 M1043.8,492.9 L1041.0,495.8 M1023.9,500.6 L1023.9,497.7 L1048.6,497.7 L1048.6,500.6 M1031.5,500.6 L1031.5,505.3 L1041.0,505.3 L1041.0,500.6 L1031.5,500.6 M1027.7,510.1 L1044.8,510.1 M1036.2,506.2 L1036.2,517.6 M1023.0,517.6 L1049.5,517.6" fill="none" stroke="#fff" stroke-width="1.9" stroke-linecap="butt" stroke-linejoin="miter"/>
<text x="867.5" y="515.5" font-size="35" fill="#fff" stroke="#c0c0c0" stroke-width="1" textLength="123" lengthAdjust="spacingAndGlyphs">@MXene</text>
</svg></body></html>
